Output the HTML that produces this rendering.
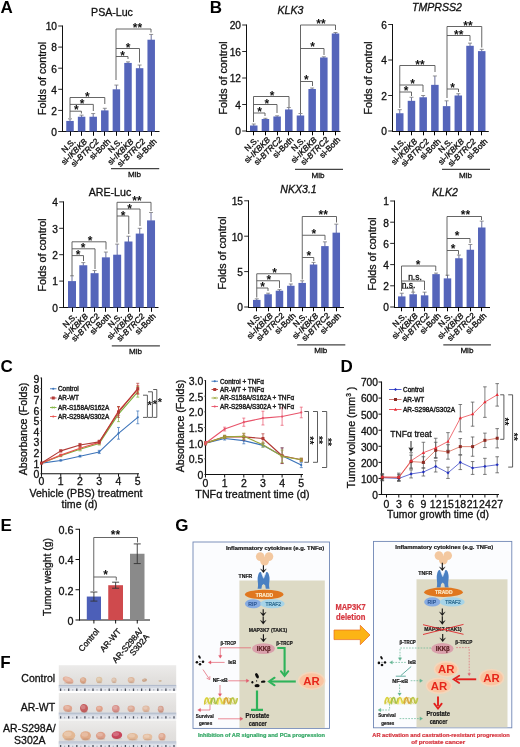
<!DOCTYPE html>
<html><head><meta charset="utf-8"><title>Figure</title>
<style>html,body{margin:0;padding:0;background:#fff}svg{display:block}text{font-family:"Liberation Sans",Arial,sans-serif}</style></head>
<body>
<svg width="520" height="747" viewBox="0 0 520 747" font-family="Liberation Sans, Arial, sans-serif">
<rect x="0" y="0" width="520" height="747" fill="#fff" />
<text x="0.6" y="13.3" font-size="17" text-anchor="start" font-weight="bold" font-style="normal" fill="#000" >A</text>
<text x="209.8" y="12.9" font-size="17" text-anchor="start" font-weight="bold" font-style="normal" fill="#000" >B</text>
<text x="0.4" y="372.3" font-size="17" text-anchor="start" font-weight="bold" font-style="normal" fill="#000" >C</text>
<text x="340.6" y="372.2" font-size="17" text-anchor="start" font-weight="bold" font-style="normal" fill="#000" >D</text>
<text x="0.6" y="530.7" font-size="17" text-anchor="start" font-weight="bold" font-style="normal" fill="#000" >E</text>
<text x="0.3" y="667.9" font-size="17" text-anchor="start" font-weight="bold" font-style="normal" fill="#000" >F</text>
<text x="175.2" y="531" font-size="17" text-anchor="start" font-weight="bold" font-style="normal" fill="#000" >G</text>
<line x1="62.5" y1="25.5" x2="62.5" y2="132" stroke="#111" stroke-width="1" />
<line x1="62" y1="131.5" x2="159.5" y2="131.5" stroke="#111" stroke-width="1" />
<line x1="58.2" y1="131.5" x2="62.5" y2="131.5" stroke="#111" stroke-width="0.9" />
<text x="57" y="135.872" font-size="10.2" text-anchor="end" font-weight="normal" font-style="normal" fill="#111"  stroke="#111" stroke-width="0.3">0</text>
<line x1="58.2" y1="110.4" x2="62.5" y2="110.4" stroke="#111" stroke-width="0.9" />
<text x="57" y="114.772" font-size="10.2" text-anchor="end" font-weight="normal" font-style="normal" fill="#111"  stroke="#111" stroke-width="0.3">2</text>
<line x1="58.2" y1="89.3" x2="62.5" y2="89.3" stroke="#111" stroke-width="0.9" />
<text x="57" y="93.672" font-size="10.2" text-anchor="end" font-weight="normal" font-style="normal" fill="#111"  stroke="#111" stroke-width="0.3">4</text>
<line x1="58.2" y1="68.2" x2="62.5" y2="68.2" stroke="#111" stroke-width="0.9" />
<text x="57" y="72.572" font-size="10.2" text-anchor="end" font-weight="normal" font-style="normal" fill="#111"  stroke="#111" stroke-width="0.3">6</text>
<line x1="58.2" y1="47.1" x2="62.5" y2="47.1" stroke="#111" stroke-width="0.9" />
<text x="57" y="51.472" font-size="10.2" text-anchor="end" font-weight="normal" font-style="normal" fill="#111"  stroke="#111" stroke-width="0.3">8</text>
<line x1="58.2" y1="26" x2="62.5" y2="26" stroke="#111" stroke-width="0.9" />
<text x="57" y="30.372" font-size="10.2" text-anchor="end" font-weight="normal" font-style="normal" fill="#111"  stroke="#111" stroke-width="0.3">10</text>
<line x1="70" y1="118.84" x2="70" y2="121.45" stroke="#5a6090" stroke-width="0.9" />
<line x1="68" y1="118.84" x2="72" y2="118.84" stroke="#777" stroke-width="0.8" />
<rect x="66.25" y="120.95" width="7.5" height="10.55" fill="#5565ba" />
<line x1="70.5" y1="131.5" x2="70.5" y2="135.8" stroke="#000" stroke-width="1" />
<text x="76.1" y="142.1" font-size="8.2" text-anchor="end" fill="#111" stroke="#111" stroke-width="0.35" transform="rotate(-45 76.1 142.1)">N.S.</text>
<line x1="81.6" y1="115.148" x2="81.6" y2="117.23" stroke="#5a6090" stroke-width="0.9" />
<line x1="79.6" y1="115.148" x2="83.6" y2="115.148" stroke="#777" stroke-width="0.8" />
<rect x="77.85" y="116.73" width="7.5" height="14.77" fill="#5565ba" />
<line x1="81.5" y1="131.5" x2="81.5" y2="135.8" stroke="#000" stroke-width="1" />
<text x="87.7" y="142.1" font-size="8.2" text-anchor="end" fill="#111" stroke="#111" stroke-width="0.35" transform="rotate(-45 87.7 142.1)">si-<tspan font-style="italic">IKBKB</tspan></text>
<line x1="93.2" y1="113.565" x2="93.2" y2="117.23" stroke="#5a6090" stroke-width="0.9" />
<line x1="91.2" y1="113.565" x2="95.2" y2="113.565" stroke="#777" stroke-width="0.8" />
<rect x="89.45" y="116.73" width="7.5" height="14.77" fill="#5565ba" />
<line x1="93.5" y1="131.5" x2="93.5" y2="135.8" stroke="#000" stroke-width="1" />
<text x="99.3" y="142.1" font-size="8.2" text-anchor="end" fill="#111" stroke="#111" stroke-width="0.35" transform="rotate(-45 99.3 142.1)">si-<tspan font-style="italic">BTRC2</tspan></text>
<line x1="104.8" y1="108.29" x2="104.8" y2="110.9" stroke="#5a6090" stroke-width="0.9" />
<line x1="102.8" y1="108.29" x2="106.8" y2="108.29" stroke="#777" stroke-width="0.8" />
<rect x="101.05" y="110.4" width="7.5" height="21.1" fill="#5565ba" />
<line x1="104.5" y1="131.5" x2="104.5" y2="135.8" stroke="#000" stroke-width="1" />
<text x="110.9" y="142.1" font-size="8.2" text-anchor="end" fill="#111" stroke="#111" stroke-width="0.35" transform="rotate(-45 110.9 142.1)">si-Both</text>
<line x1="116.4" y1="85.08" x2="116.4" y2="89.8" stroke="#5a6090" stroke-width="0.9" />
<line x1="114.4" y1="85.08" x2="118.4" y2="85.08" stroke="#777" stroke-width="0.8" />
<rect x="112.65" y="89.3" width="7.5" height="42.2" fill="#5565ba" />
<line x1="116.5" y1="131.5" x2="116.5" y2="135.8" stroke="#000" stroke-width="1" />
<text x="122.5" y="142.1" font-size="8.2" text-anchor="end" fill="#111" stroke="#111" stroke-width="0.35" transform="rotate(-45 122.5 142.1)">N.S.</text>
<line x1="128" y1="61.87" x2="128" y2="63.425" stroke="#5a6090" stroke-width="0.9" />
<line x1="126" y1="61.87" x2="130" y2="61.87" stroke="#777" stroke-width="0.8" />
<rect x="124.25" y="62.925" width="7.5" height="68.575" fill="#5565ba" />
<line x1="128.5" y1="131.5" x2="128.5" y2="135.8" stroke="#000" stroke-width="1" />
<text x="134.1" y="142.1" font-size="8.2" text-anchor="end" fill="#111" stroke="#111" stroke-width="0.35" transform="rotate(-45 134.1 142.1)">si-<tspan font-style="italic">IKBKB</tspan></text>
<line x1="139.6" y1="65.035" x2="139.6" y2="68.7" stroke="#5a6090" stroke-width="0.9" />
<line x1="137.6" y1="65.035" x2="141.6" y2="65.035" stroke="#777" stroke-width="0.8" />
<rect x="135.85" y="68.2" width="7.5" height="63.3" fill="#5565ba" />
<line x1="139.5" y1="131.5" x2="139.5" y2="135.8" stroke="#000" stroke-width="1" />
<text x="145.7" y="142.1" font-size="8.2" text-anchor="end" fill="#111" stroke="#111" stroke-width="0.35" transform="rotate(-45 145.7 142.1)">si-<tspan font-style="italic">BTRC2</tspan></text>
<line x1="151.2" y1="34.44" x2="151.2" y2="40.215" stroke="#5a6090" stroke-width="0.9" />
<line x1="149.2" y1="34.44" x2="153.2" y2="34.44" stroke="#777" stroke-width="0.8" />
<rect x="147.45" y="39.715" width="7.5" height="91.785" fill="#5565ba" />
<line x1="151.5" y1="131.5" x2="151.5" y2="135.8" stroke="#000" stroke-width="1" />
<text x="157.3" y="142.1" font-size="8.2" text-anchor="end" fill="#111" stroke="#111" stroke-width="0.35" transform="rotate(-45 157.3 142.1)">si-Both</text>
<text x="112" y="15.8" font-size="10.6" text-anchor="middle" font-weight="normal" font-style="normal" fill="#111"  stroke="#111" stroke-width="0.3">PSA-Luc</text>
<text x="46.1" y="78.5" font-size="10.7" text-anchor="middle" font-weight="normal" font-style="normal" fill="#111" transform="rotate(-90 46.1 78.5)"  stroke="#111" stroke-width="0.3">Folds of control</text>
<line x1="111" y1="168.7" x2="159.2" y2="168.7" stroke="#444" stroke-width="1.2" />
<text x="134.5" y="176.6" font-size="8.1" text-anchor="middle" font-weight="normal" font-style="normal" fill="#111"  stroke="#111" stroke-width="0.3">Mib</text>
<line x1="70" y1="97.5" x2="70" y2="118" stroke="#555" stroke-width="0.9" />
<path d="M70 111.2 H81.4 V113.5" stroke="#555" stroke-width="0.9" fill="none" />
<text x="76.3" y="114.02" font-size="12" text-anchor="middle" font-weight="bold" font-style="normal" fill="#111" >*</text>
<path d="M70 104.4 H93.3 V111" stroke="#555" stroke-width="0.9" fill="none" />
<text x="82" y="107.72" font-size="12" text-anchor="middle" font-weight="bold" font-style="normal" fill="#111" >*</text>
<path d="M70 97.5 H104.8 V104" stroke="#555" stroke-width="0.9" fill="none" />
<text x="87.4" y="100.72" font-size="12" text-anchor="middle" font-weight="bold" font-style="normal" fill="#111" >*</text>
<line x1="116" y1="29" x2="116" y2="80" stroke="#555" stroke-width="0.9" />
<path d="M116 56.5 H128 V59" stroke="#555" stroke-width="0.9" fill="none" />
<text x="122.5" y="59.72" font-size="12" text-anchor="middle" font-weight="bold" font-style="normal" fill="#111" >*</text>
<path d="M116 48.5 H139.5 V62.5" stroke="#555" stroke-width="0.9" fill="none" />
<text x="128" y="51.72" font-size="12" text-anchor="middle" font-weight="bold" font-style="normal" fill="#111" >*</text>
<path d="M116 29 H151 V32.5" stroke="#555" stroke-width="0.9" fill="none" />
<text x="137.5" y="32.22" font-size="12" text-anchor="middle" font-weight="bold" font-style="normal" fill="#111" >**</text>
<line x1="63.5" y1="201.4" x2="63.5" y2="308" stroke="#111" stroke-width="1" />
<line x1="63" y1="307.5" x2="158.5" y2="307.5" stroke="#111" stroke-width="1" />
<line x1="59.2" y1="307.5" x2="63.5" y2="307.5" stroke="#111" stroke-width="0.9" />
<text x="58" y="311.872" font-size="10.2" text-anchor="end" font-weight="normal" font-style="normal" fill="#111"  stroke="#111" stroke-width="0.3">0</text>
<line x1="59.2" y1="281.1" x2="63.5" y2="281.1" stroke="#111" stroke-width="0.9" />
<text x="58" y="285.472" font-size="10.2" text-anchor="end" font-weight="normal" font-style="normal" fill="#111"  stroke="#111" stroke-width="0.3">1</text>
<line x1="59.2" y1="254.7" x2="63.5" y2="254.7" stroke="#111" stroke-width="0.9" />
<text x="58" y="259.072" font-size="10.2" text-anchor="end" font-weight="normal" font-style="normal" fill="#111"  stroke="#111" stroke-width="0.3">2</text>
<line x1="59.2" y1="228.3" x2="63.5" y2="228.3" stroke="#111" stroke-width="0.9" />
<text x="58" y="232.672" font-size="10.2" text-anchor="end" font-weight="normal" font-style="normal" fill="#111"  stroke="#111" stroke-width="0.3">3</text>
<line x1="59.2" y1="201.9" x2="63.5" y2="201.9" stroke="#111" stroke-width="0.9" />
<text x="58" y="206.272" font-size="10.2" text-anchor="end" font-weight="normal" font-style="normal" fill="#111"  stroke="#111" stroke-width="0.3">4</text>
<line x1="72" y1="275.82" x2="72" y2="281.6" stroke="#5a6090" stroke-width="0.9" />
<line x1="70" y1="275.82" x2="74" y2="275.82" stroke="#777" stroke-width="0.8" />
<rect x="68" y="281.1" width="8" height="26.4" fill="#5565ba" />
<line x1="72.5" y1="307.5" x2="72.5" y2="311.8" stroke="#000" stroke-width="1" />
<text x="77.3" y="316.9" font-size="8.2" text-anchor="end" fill="#111" stroke="#111" stroke-width="0.35" transform="rotate(-45 77.3 316.9)">N.S.</text>
<line x1="83.29" y1="262.62" x2="83.29" y2="265.76" stroke="#5a6090" stroke-width="0.9" />
<line x1="81.29" y1="262.62" x2="85.29" y2="262.62" stroke="#777" stroke-width="0.8" />
<rect x="79.29" y="265.26" width="8" height="42.24" fill="#5565ba" />
<line x1="83.5" y1="307.5" x2="83.5" y2="311.8" stroke="#000" stroke-width="1" />
<text x="88.59" y="316.9" font-size="8.2" text-anchor="end" fill="#111" stroke="#111" stroke-width="0.35" transform="rotate(-45 88.59 316.9)">si-<tspan font-style="italic">IKBKB</tspan></text>
<line x1="94.58" y1="270.54" x2="94.58" y2="273.68" stroke="#5a6090" stroke-width="0.9" />
<line x1="92.58" y1="270.54" x2="96.58" y2="270.54" stroke="#777" stroke-width="0.8" />
<rect x="90.58" y="273.18" width="8" height="34.32" fill="#5565ba" />
<line x1="94.5" y1="307.5" x2="94.5" y2="311.8" stroke="#000" stroke-width="1" />
<text x="99.88" y="316.9" font-size="8.2" text-anchor="end" fill="#111" stroke="#111" stroke-width="0.35" transform="rotate(-45 99.88 316.9)">si-<tspan font-style="italic">BTRC2</tspan></text>
<line x1="105.87" y1="252.06" x2="105.87" y2="257.84" stroke="#5a6090" stroke-width="0.9" />
<line x1="103.87" y1="252.06" x2="107.87" y2="252.06" stroke="#777" stroke-width="0.8" />
<rect x="101.87" y="257.34" width="8" height="50.16" fill="#5565ba" />
<line x1="105.5" y1="307.5" x2="105.5" y2="311.8" stroke="#000" stroke-width="1" />
<text x="111.17" y="316.9" font-size="8.2" text-anchor="end" fill="#111" stroke="#111" stroke-width="0.35" transform="rotate(-45 111.17 316.9)">si-Both</text>
<line x1="117.16" y1="244.14" x2="117.16" y2="255.2" stroke="#5a6090" stroke-width="0.9" />
<line x1="115.16" y1="244.14" x2="119.16" y2="244.14" stroke="#777" stroke-width="0.8" />
<rect x="113.16" y="254.7" width="8" height="52.8" fill="#5565ba" />
<line x1="117.5" y1="307.5" x2="117.5" y2="311.8" stroke="#000" stroke-width="1" />
<text x="122.46" y="316.9" font-size="8.2" text-anchor="end" fill="#111" stroke="#111" stroke-width="0.35" transform="rotate(-45 122.46 316.9)">N.S.</text>
<line x1="128.45" y1="236.22" x2="128.45" y2="242" stroke="#5a6090" stroke-width="0.9" />
<line x1="126.45" y1="236.22" x2="130.45" y2="236.22" stroke="#777" stroke-width="0.8" />
<rect x="124.45" y="241.5" width="8" height="66" fill="#5565ba" />
<line x1="128.5" y1="307.5" x2="128.5" y2="311.8" stroke="#000" stroke-width="1" />
<text x="133.75" y="316.9" font-size="8.2" text-anchor="end" fill="#111" stroke="#111" stroke-width="0.35" transform="rotate(-45 133.75 316.9)">si-<tspan font-style="italic">IKBKB</tspan></text>
<line x1="139.74" y1="228.3" x2="139.74" y2="234.08" stroke="#5a6090" stroke-width="0.9" />
<line x1="137.74" y1="228.3" x2="141.74" y2="228.3" stroke="#777" stroke-width="0.8" />
<rect x="135.74" y="233.58" width="8" height="73.92" fill="#5565ba" />
<line x1="139.5" y1="307.5" x2="139.5" y2="311.8" stroke="#000" stroke-width="1" />
<text x="145.04" y="316.9" font-size="8.2" text-anchor="end" fill="#111" stroke="#111" stroke-width="0.35" transform="rotate(-45 145.04 316.9)">si-<tspan font-style="italic">BTRC2</tspan></text>
<line x1="151.03" y1="212.46" x2="151.03" y2="220.88" stroke="#5a6090" stroke-width="0.9" />
<line x1="149.03" y1="212.46" x2="153.03" y2="212.46" stroke="#777" stroke-width="0.8" />
<rect x="147.03" y="220.38" width="8" height="87.12" fill="#5565ba" />
<line x1="151.5" y1="307.5" x2="151.5" y2="311.8" stroke="#000" stroke-width="1" />
<text x="156.33" y="316.9" font-size="8.2" text-anchor="end" fill="#111" stroke="#111" stroke-width="0.35" transform="rotate(-45 156.33 316.9)">si-Both</text>
<text x="110" y="195.5" font-size="10.6" text-anchor="middle" font-weight="normal" font-style="normal" fill="#111"  stroke="#111" stroke-width="0.3">ARE-Luc</text>
<text x="45.8" y="255" font-size="10.7" text-anchor="middle" font-weight="normal" font-style="normal" fill="#111" transform="rotate(-90 45.8 255)"  stroke="#111" stroke-width="0.3">Folds of control</text>
<line x1="111.8" y1="345.8" x2="159.9" y2="345.8" stroke="#444" stroke-width="1.2" />
<text x="135.5" y="353.8" font-size="8.1" text-anchor="middle" font-weight="normal" font-style="normal" fill="#111"  stroke="#111" stroke-width="0.3">Mib</text>
<line x1="72" y1="241.8" x2="72" y2="276" stroke="#555" stroke-width="0.9" />
<path d="M72 255.6 H83.5 V261" stroke="#555" stroke-width="0.9" fill="none" />
<text x="78" y="258.72" font-size="12" text-anchor="middle" font-weight="bold" font-style="normal" fill="#111" >*</text>
<path d="M72 248.8 H95 V269" stroke="#555" stroke-width="0.9" fill="none" />
<text x="83" y="251.72" font-size="12" text-anchor="middle" font-weight="bold" font-style="normal" fill="#111" >*</text>
<path d="M72 241.8 H106 V249.5" stroke="#555" stroke-width="0.9" fill="none" />
<text x="90" y="244.72" font-size="12" text-anchor="middle" font-weight="bold" font-style="normal" fill="#111" >*</text>
<line x1="117" y1="202.3" x2="117" y2="242.5" stroke="#555" stroke-width="0.9" />
<path d="M117 216 H128.75 V234" stroke="#555" stroke-width="0.9" fill="none" />
<text x="123" y="219.72" font-size="12" text-anchor="middle" font-weight="bold" font-style="normal" fill="#111" >*</text>
<path d="M117 209 H140 V226" stroke="#555" stroke-width="0.9" fill="none" />
<text x="129.5" y="212.72" font-size="12" text-anchor="middle" font-weight="bold" font-style="normal" fill="#111" >*</text>
<path d="M117 202.3 H151 V211" stroke="#555" stroke-width="0.9" fill="none" />
<text x="137" y="204.72" font-size="12" text-anchor="middle" font-weight="bold" font-style="normal" fill="#111" >**</text>
<line x1="246.5" y1="24.5" x2="246.5" y2="132" stroke="#111" stroke-width="1" />
<line x1="246" y1="131.5" x2="340.5" y2="131.5" stroke="#111" stroke-width="1" />
<line x1="242.2" y1="131" x2="246.5" y2="131" stroke="#111" stroke-width="0.9" />
<text x="241" y="135.372" font-size="10.2" text-anchor="end" font-weight="normal" font-style="normal" fill="#111"  stroke="#111" stroke-width="0.3">0</text>
<line x1="242.2" y1="104.5" x2="246.5" y2="104.5" stroke="#111" stroke-width="0.9" />
<text x="241" y="108.872" font-size="10.2" text-anchor="end" font-weight="normal" font-style="normal" fill="#111"  stroke="#111" stroke-width="0.3">4</text>
<line x1="242.2" y1="78" x2="246.5" y2="78" stroke="#111" stroke-width="0.9" />
<text x="241" y="82.372" font-size="10.2" text-anchor="end" font-weight="normal" font-style="normal" fill="#111"  stroke="#111" stroke-width="0.3">12</text>
<line x1="242.2" y1="51.5" x2="246.5" y2="51.5" stroke="#111" stroke-width="0.9" />
<text x="241" y="55.872" font-size="10.2" text-anchor="end" font-weight="normal" font-style="normal" fill="#111"  stroke="#111" stroke-width="0.3">16</text>
<line x1="242.2" y1="25" x2="246.5" y2="25" stroke="#111" stroke-width="0.9" />
<text x="241" y="29.372" font-size="10.2" text-anchor="end" font-weight="normal" font-style="normal" fill="#111"  stroke="#111" stroke-width="0.3">20</text>
<line x1="253.75" y1="124" x2="253.75" y2="126" stroke="#5a6090" stroke-width="0.9" />
<line x1="251.75" y1="124" x2="255.75" y2="124" stroke="#777" stroke-width="0.8" />
<rect x="250" y="125.5" width="7.5" height="5.5" fill="#5565ba" />
<line x1="253.5" y1="131" x2="253.5" y2="135.3" stroke="#000" stroke-width="1" />
<text x="259.05" y="140.4" font-size="8.2" text-anchor="end" fill="#111" stroke="#111" stroke-width="0.35" transform="rotate(-45 259.05 140.4)">N.S.</text>
<line x1="265.43" y1="118.3" x2="265.43" y2="119.5" stroke="#5a6090" stroke-width="0.9" />
<line x1="263.43" y1="118.3" x2="267.43" y2="118.3" stroke="#777" stroke-width="0.8" />
<rect x="261.68" y="119" width="7.5" height="12" fill="#5565ba" />
<line x1="265.5" y1="131" x2="265.5" y2="135.3" stroke="#000" stroke-width="1" />
<text x="270.73" y="140.4" font-size="8.2" text-anchor="end" fill="#111" stroke="#111" stroke-width="0.35" transform="rotate(-45 270.73 140.4)">si-<tspan font-style="italic">IKBKB</tspan></text>
<line x1="277.11" y1="115.8" x2="277.11" y2="117" stroke="#5a6090" stroke-width="0.9" />
<line x1="275.11" y1="115.8" x2="279.11" y2="115.8" stroke="#777" stroke-width="0.8" />
<rect x="273.36" y="116.5" width="7.5" height="14.5" fill="#5565ba" />
<line x1="277.5" y1="131" x2="277.5" y2="135.3" stroke="#000" stroke-width="1" />
<text x="282.41" y="140.4" font-size="8.2" text-anchor="end" fill="#111" stroke="#111" stroke-width="0.35" transform="rotate(-45 282.41 140.4)">si-<tspan font-style="italic">BTRC2</tspan></text>
<line x1="288.79" y1="107.5" x2="288.79" y2="110" stroke="#5a6090" stroke-width="0.9" />
<line x1="286.79" y1="107.5" x2="290.79" y2="107.5" stroke="#777" stroke-width="0.8" />
<rect x="285.04" y="109.5" width="7.5" height="21.5" fill="#5565ba" />
<line x1="288.5" y1="131" x2="288.5" y2="135.3" stroke="#000" stroke-width="1" />
<text x="294.09" y="140.4" font-size="8.2" text-anchor="end" fill="#111" stroke="#111" stroke-width="0.35" transform="rotate(-45 294.09 140.4)">si-Both</text>
<line x1="300.47" y1="113.5" x2="300.47" y2="116" stroke="#5a6090" stroke-width="0.9" />
<line x1="298.47" y1="113.5" x2="302.47" y2="113.5" stroke="#777" stroke-width="0.8" />
<rect x="296.72" y="115.5" width="7.5" height="15.5" fill="#5565ba" />
<line x1="300.5" y1="131" x2="300.5" y2="135.3" stroke="#000" stroke-width="1" />
<text x="305.77" y="140.4" font-size="8.2" text-anchor="end" fill="#111" stroke="#111" stroke-width="0.35" transform="rotate(-45 305.77 140.4)">N.S.</text>
<line x1="312.15" y1="88" x2="312.15" y2="89.5" stroke="#5a6090" stroke-width="0.9" />
<line x1="310.15" y1="88" x2="314.15" y2="88" stroke="#777" stroke-width="0.8" />
<rect x="308.4" y="89" width="7.5" height="42" fill="#5565ba" />
<line x1="312.5" y1="131" x2="312.5" y2="135.3" stroke="#000" stroke-width="1" />
<text x="317.45" y="140.4" font-size="8.2" text-anchor="end" fill="#111" stroke="#111" stroke-width="0.35" transform="rotate(-45 317.45 140.4)">si-<tspan font-style="italic">IKBKB</tspan></text>
<line x1="323.83" y1="56.8" x2="323.83" y2="58" stroke="#5a6090" stroke-width="0.9" />
<line x1="321.83" y1="56.8" x2="325.83" y2="56.8" stroke="#777" stroke-width="0.8" />
<rect x="320.08" y="57.5" width="7.5" height="73.5" fill="#5565ba" />
<line x1="323.5" y1="131" x2="323.5" y2="135.3" stroke="#000" stroke-width="1" />
<text x="329.13" y="140.4" font-size="8.2" text-anchor="end" fill="#111" stroke="#111" stroke-width="0.35" transform="rotate(-45 329.13 140.4)">si-<tspan font-style="italic">BTRC2</tspan></text>
<line x1="335.51" y1="32.5" x2="335.51" y2="34" stroke="#5a6090" stroke-width="0.9" />
<line x1="333.51" y1="32.5" x2="337.51" y2="32.5" stroke="#777" stroke-width="0.8" />
<rect x="331.76" y="33.5" width="7.5" height="97.5" fill="#5565ba" />
<line x1="335.5" y1="131" x2="335.5" y2="135.3" stroke="#000" stroke-width="1" />
<text x="340.81" y="140.4" font-size="8.2" text-anchor="end" fill="#111" stroke="#111" stroke-width="0.35" transform="rotate(-45 340.81 140.4)">si-Both</text>
<text x="290.5" y="14" font-size="10.6" text-anchor="middle" font-weight="normal" font-style="italic" fill="#111"  stroke="#111" stroke-width="0.3">KLK3</text>
<text x="227.1" y="78" font-size="10.7" text-anchor="middle" font-weight="normal" font-style="normal" fill="#111" transform="rotate(-90 227.1 78)"  stroke="#111" stroke-width="0.3">Folds of control</text>
<line x1="295" y1="169.4" x2="343" y2="169.4" stroke="#444" stroke-width="1.2" />
<text x="318" y="177.5" font-size="8.1" text-anchor="middle" font-weight="normal" font-style="normal" fill="#111"  stroke="#111" stroke-width="0.3">Mib</text>
<line x1="253.5" y1="96.5" x2="253.5" y2="122" stroke="#555" stroke-width="0.9" />
<path d="M253.5 113 H265 V116" stroke="#555" stroke-width="0.9" fill="none" />
<text x="259.5" y="116.02" font-size="12" text-anchor="middle" font-weight="bold" font-style="normal" fill="#111" >*</text>
<path d="M253.5 104.5 H277 V113" stroke="#555" stroke-width="0.9" fill="none" />
<text x="266.75" y="107.52" font-size="12" text-anchor="middle" font-weight="bold" font-style="normal" fill="#111" >*</text>
<path d="M253.5 96.5 H289 V107" stroke="#555" stroke-width="0.9" fill="none" />
<text x="272" y="99.52" font-size="12" text-anchor="middle" font-weight="bold" font-style="normal" fill="#111" >*</text>
<line x1="300.5" y1="25" x2="300.5" y2="113" stroke="#555" stroke-width="0.9" />
<path d="M300.5 81.5 H312.5 V86" stroke="#555" stroke-width="0.9" fill="none" />
<text x="306.25" y="84.02" font-size="12" text-anchor="middle" font-weight="bold" font-style="normal" fill="#111" >*</text>
<path d="M300.5 48.5 H324 V55" stroke="#555" stroke-width="0.9" fill="none" />
<text x="312.5" y="51.02" font-size="12" text-anchor="middle" font-weight="bold" font-style="normal" fill="#111" >*</text>
<path d="M300.5 25 H335.5 V30" stroke="#555" stroke-width="0.9" fill="none" />
<text x="321" y="28.02" font-size="12" text-anchor="middle" font-weight="bold" font-style="normal" fill="#111" >**</text>
<line x1="392.5" y1="24" x2="392.5" y2="132" stroke="#111" stroke-width="1" />
<line x1="392" y1="131.5" x2="488.75" y2="131.5" stroke="#111" stroke-width="1" />
<line x1="388.2" y1="131" x2="392.5" y2="131" stroke="#111" stroke-width="0.9" />
<text x="387" y="135.372" font-size="10.2" text-anchor="end" font-weight="normal" font-style="normal" fill="#111"  stroke="#111" stroke-width="0.3">0</text>
<line x1="388.2" y1="95.5" x2="392.5" y2="95.5" stroke="#111" stroke-width="0.9" />
<text x="387" y="99.872" font-size="10.2" text-anchor="end" font-weight="normal" font-style="normal" fill="#111"  stroke="#111" stroke-width="0.3">2</text>
<line x1="388.2" y1="60" x2="392.5" y2="60" stroke="#111" stroke-width="0.9" />
<text x="387" y="64.372" font-size="10.2" text-anchor="end" font-weight="normal" font-style="normal" fill="#111"  stroke="#111" stroke-width="0.3">4</text>
<line x1="388.2" y1="24.5" x2="392.5" y2="24.5" stroke="#111" stroke-width="0.9" />
<text x="387" y="28.872" font-size="10.2" text-anchor="end" font-weight="normal" font-style="normal" fill="#111"  stroke="#111" stroke-width="0.3">6</text>
<line x1="399.75" y1="109.7" x2="399.75" y2="113.75" stroke="#5a6090" stroke-width="0.9" />
<line x1="397.75" y1="109.7" x2="401.75" y2="109.7" stroke="#777" stroke-width="0.8" />
<rect x="396" y="113.25" width="7.5" height="17.75" fill="#5565ba" />
<line x1="399.5" y1="131" x2="399.5" y2="135.3" stroke="#000" stroke-width="1" />
<text x="406.05" y="142" font-size="8.2" text-anchor="end" fill="#111" stroke="#111" stroke-width="0.35" transform="rotate(-45 406.05 142)">N.S.</text>
<line x1="411.46" y1="97.275" x2="411.46" y2="101.325" stroke="#5a6090" stroke-width="0.9" />
<line x1="409.46" y1="97.275" x2="413.46" y2="97.275" stroke="#777" stroke-width="0.8" />
<rect x="407.71" y="100.825" width="7.5" height="30.175" fill="#5565ba" />
<line x1="411.5" y1="131" x2="411.5" y2="135.3" stroke="#000" stroke-width="1" />
<text x="417.76" y="142" font-size="8.2" text-anchor="end" fill="#111" stroke="#111" stroke-width="0.35" transform="rotate(-45 417.76 142)">si-<tspan font-style="italic">IKBKB</tspan></text>
<line x1="423.17" y1="95.5" x2="423.17" y2="97.775" stroke="#5a6090" stroke-width="0.9" />
<line x1="421.17" y1="95.5" x2="425.17" y2="95.5" stroke="#777" stroke-width="0.8" />
<rect x="419.42" y="97.275" width="7.5" height="33.725" fill="#5565ba" />
<line x1="423.5" y1="131" x2="423.5" y2="135.3" stroke="#000" stroke-width="1" />
<text x="429.47" y="142" font-size="8.2" text-anchor="end" fill="#111" stroke="#111" stroke-width="0.35" transform="rotate(-45 429.47 142)">si-<tspan font-style="italic">BTRC2</tspan></text>
<line x1="434.88" y1="75.975" x2="434.88" y2="85.35" stroke="#5a6090" stroke-width="0.9" />
<line x1="432.88" y1="75.975" x2="436.88" y2="75.975" stroke="#777" stroke-width="0.8" />
<rect x="431.13" y="84.85" width="7.5" height="46.15" fill="#5565ba" />
<line x1="434.5" y1="131" x2="434.5" y2="135.3" stroke="#000" stroke-width="1" />
<text x="441.18" y="142" font-size="8.2" text-anchor="end" fill="#111" stroke="#111" stroke-width="0.35" transform="rotate(-45 441.18 142)">si-Both</text>
<line x1="446.59" y1="100.825" x2="446.59" y2="106.65" stroke="#5a6090" stroke-width="0.9" />
<line x1="444.59" y1="100.825" x2="448.59" y2="100.825" stroke="#777" stroke-width="0.8" />
<rect x="442.84" y="106.15" width="7.5" height="24.85" fill="#5565ba" />
<line x1="446.5" y1="131" x2="446.5" y2="135.3" stroke="#000" stroke-width="1" />
<text x="452.89" y="142" font-size="8.2" text-anchor="end" fill="#111" stroke="#111" stroke-width="0.35" transform="rotate(-45 452.89 142)">N.S.</text>
<line x1="458.3" y1="93.725" x2="458.3" y2="96" stroke="#5a6090" stroke-width="0.9" />
<line x1="456.3" y1="93.725" x2="460.3" y2="93.725" stroke="#777" stroke-width="0.8" />
<rect x="454.55" y="95.5" width="7.5" height="35.5" fill="#5565ba" />
<line x1="458.5" y1="131" x2="458.5" y2="135.3" stroke="#000" stroke-width="1" />
<text x="464.6" y="142" font-size="8.2" text-anchor="end" fill="#111" stroke="#111" stroke-width="0.35" transform="rotate(-45 464.6 142)">si-<tspan font-style="italic">IKBKB</tspan></text>
<line x1="470.01" y1="43.1375" x2="470.01" y2="46.3" stroke="#5a6090" stroke-width="0.9" />
<line x1="468.01" y1="43.1375" x2="472.01" y2="43.1375" stroke="#777" stroke-width="0.8" />
<rect x="466.26" y="45.8" width="7.5" height="85.2" fill="#5565ba" />
<line x1="470.5" y1="131" x2="470.5" y2="135.3" stroke="#000" stroke-width="1" />
<text x="476.31" y="142" font-size="8.2" text-anchor="end" fill="#111" stroke="#111" stroke-width="0.35" transform="rotate(-45 476.31 142)">si-<tspan font-style="italic">BTRC2</tspan></text>
<line x1="481.72" y1="49.35" x2="481.72" y2="51.625" stroke="#5a6090" stroke-width="0.9" />
<line x1="479.72" y1="49.35" x2="483.72" y2="49.35" stroke="#777" stroke-width="0.8" />
<rect x="477.97" y="51.125" width="7.5" height="79.875" fill="#5565ba" />
<line x1="481.5" y1="131" x2="481.5" y2="135.3" stroke="#000" stroke-width="1" />
<text x="488.02" y="142" font-size="8.2" text-anchor="end" fill="#111" stroke="#111" stroke-width="0.35" transform="rotate(-45 488.02 142)">si-Both</text>
<text x="437" y="11" font-size="10.6" text-anchor="middle" font-weight="normal" font-style="italic" fill="#111"  stroke="#111" stroke-width="0.3">TMPRSS2</text>
<text x="372.3" y="78" font-size="10.7" text-anchor="middle" font-weight="normal" font-style="normal" fill="#111" transform="rotate(-90 372.3 78)"  stroke="#111" stroke-width="0.3">Folds of control</text>
<line x1="442" y1="169.4" x2="490" y2="169.4" stroke="#444" stroke-width="1.2" />
<text x="465.5" y="177.5" font-size="8.1" text-anchor="middle" font-weight="normal" font-style="normal" fill="#111"  stroke="#111" stroke-width="0.3">Mib</text>
<line x1="399.75" y1="65.5" x2="399.75" y2="108" stroke="#555" stroke-width="0.9" />
<path d="M399.75 92 H411.5 V96" stroke="#555" stroke-width="0.9" fill="none" />
<text x="406" y="94.72" font-size="12" text-anchor="middle" font-weight="bold" font-style="normal" fill="#111" >*</text>
<path d="M399.75 85 H423 V92" stroke="#555" stroke-width="0.9" fill="none" />
<text x="412.5" y="87.72" font-size="12" text-anchor="middle" font-weight="bold" font-style="normal" fill="#111" >*</text>
<path d="M399.75 65.5 H435 V72" stroke="#555" stroke-width="0.9" fill="none" />
<text x="420" y="68.72" font-size="12" text-anchor="middle" font-weight="bold" font-style="normal" fill="#111" >**</text>
<line x1="447" y1="26.5" x2="447" y2="98" stroke="#555" stroke-width="0.9" />
<path d="M447 89 H458.5 V92" stroke="#555" stroke-width="0.9" fill="none" />
<text x="452.5" y="91.72" font-size="12" text-anchor="middle" font-weight="bold" font-style="normal" fill="#111" >*</text>
<path d="M447 35.5 H470 V41" stroke="#555" stroke-width="0.9" fill="none" />
<text x="458.75" y="38.72" font-size="12" text-anchor="middle" font-weight="bold" font-style="normal" fill="#111" >**</text>
<path d="M447 26.5 H481.75 V47.5" stroke="#555" stroke-width="0.9" fill="none" />
<text x="468" y="29.72" font-size="12" text-anchor="middle" font-weight="bold" font-style="normal" fill="#111" >**</text>
<line x1="248.5" y1="200.3" x2="248.5" y2="308" stroke="#111" stroke-width="1" />
<line x1="248" y1="307.5" x2="344" y2="307.5" stroke="#111" stroke-width="1" />
<line x1="244.2" y1="307" x2="248.5" y2="307" stroke="#111" stroke-width="0.9" />
<text x="243" y="311.372" font-size="10.2" text-anchor="end" font-weight="normal" font-style="normal" fill="#111"  stroke="#111" stroke-width="0.3">0</text>
<line x1="244.2" y1="271.6" x2="248.5" y2="271.6" stroke="#111" stroke-width="0.9" />
<text x="243" y="275.972" font-size="10.2" text-anchor="end" font-weight="normal" font-style="normal" fill="#111"  stroke="#111" stroke-width="0.3">5</text>
<line x1="244.2" y1="236.2" x2="248.5" y2="236.2" stroke="#111" stroke-width="0.9" />
<text x="243" y="240.572" font-size="10.2" text-anchor="end" font-weight="normal" font-style="normal" fill="#111"  stroke="#111" stroke-width="0.3">10</text>
<line x1="244.2" y1="200.8" x2="248.5" y2="200.8" stroke="#111" stroke-width="0.9" />
<text x="243" y="205.172" font-size="10.2" text-anchor="end" font-weight="normal" font-style="normal" fill="#111"  stroke="#111" stroke-width="0.3">15</text>
<line x1="256.75" y1="298.858" x2="256.75" y2="300.42" stroke="#5a6090" stroke-width="0.9" />
<line x1="254.75" y1="298.858" x2="258.75" y2="298.858" stroke="#777" stroke-width="0.8" />
<rect x="253" y="299.92" width="7.5" height="7.08" fill="#5565ba" />
<line x1="256.5" y1="307" x2="256.5" y2="311.3" stroke="#000" stroke-width="1" />
<text x="262.05" y="316.4" font-size="8.2" text-anchor="end" fill="#111" stroke="#111" stroke-width="0.35" transform="rotate(-45 262.05 316.4)">N.S.</text>
<line x1="268.11" y1="293.194" x2="268.11" y2="294.756" stroke="#5a6090" stroke-width="0.9" />
<line x1="266.11" y1="293.194" x2="270.11" y2="293.194" stroke="#777" stroke-width="0.8" />
<rect x="264.36" y="294.256" width="7.5" height="12.744" fill="#5565ba" />
<line x1="268.5" y1="307" x2="268.5" y2="311.3" stroke="#000" stroke-width="1" />
<text x="273.41" y="316.4" font-size="8.2" text-anchor="end" fill="#111" stroke="#111" stroke-width="0.35" transform="rotate(-45 273.41 316.4)">si-<tspan font-style="italic">IKBKB</tspan></text>
<line x1="279.47" y1="289.654" x2="279.47" y2="291.216" stroke="#5a6090" stroke-width="0.9" />
<line x1="277.47" y1="289.654" x2="281.47" y2="289.654" stroke="#777" stroke-width="0.8" />
<rect x="275.72" y="290.716" width="7.5" height="16.284" fill="#5565ba" />
<line x1="279.5" y1="307" x2="279.5" y2="311.3" stroke="#000" stroke-width="1" />
<text x="284.77" y="316.4" font-size="8.2" text-anchor="end" fill="#111" stroke="#111" stroke-width="0.35" transform="rotate(-45 284.77 316.4)">si-<tspan font-style="italic">BTRC2</tspan></text>
<line x1="290.83" y1="283.99" x2="290.83" y2="286.26" stroke="#5a6090" stroke-width="0.9" />
<line x1="288.83" y1="283.99" x2="292.83" y2="283.99" stroke="#777" stroke-width="0.8" />
<rect x="287.08" y="285.76" width="7.5" height="21.24" fill="#5565ba" />
<line x1="290.5" y1="307" x2="290.5" y2="311.3" stroke="#000" stroke-width="1" />
<text x="296.13" y="316.4" font-size="8.2" text-anchor="end" fill="#111" stroke="#111" stroke-width="0.35" transform="rotate(-45 296.13 316.4)">si-Both</text>
<line x1="302.19" y1="280.804" x2="302.19" y2="283.428" stroke="#5a6090" stroke-width="0.9" />
<line x1="300.19" y1="280.804" x2="304.19" y2="280.804" stroke="#777" stroke-width="0.8" />
<rect x="298.44" y="282.928" width="7.5" height="24.072" fill="#5565ba" />
<line x1="302.5" y1="307" x2="302.5" y2="311.3" stroke="#000" stroke-width="1" />
<text x="307.49" y="316.4" font-size="8.2" text-anchor="end" fill="#111" stroke="#111" stroke-width="0.35" transform="rotate(-45 307.49 316.4)">N.S.</text>
<line x1="313.55" y1="262.396" x2="313.55" y2="265.02" stroke="#5a6090" stroke-width="0.9" />
<line x1="311.55" y1="262.396" x2="315.55" y2="262.396" stroke="#777" stroke-width="0.8" />
<rect x="309.8" y="264.52" width="7.5" height="42.48" fill="#5565ba" />
<line x1="313.5" y1="307" x2="313.5" y2="311.3" stroke="#000" stroke-width="1" />
<text x="318.85" y="316.4" font-size="8.2" text-anchor="end" fill="#111" stroke="#111" stroke-width="0.35" transform="rotate(-45 318.85 316.4)">si-<tspan font-style="italic">IKBKB</tspan></text>
<line x1="324.91" y1="241.864" x2="324.91" y2="246.612" stroke="#5a6090" stroke-width="0.9" />
<line x1="322.91" y1="241.864" x2="326.91" y2="241.864" stroke="#777" stroke-width="0.8" />
<rect x="321.16" y="246.112" width="7.5" height="60.888" fill="#5565ba" />
<line x1="324.5" y1="307" x2="324.5" y2="311.3" stroke="#000" stroke-width="1" />
<text x="330.21" y="316.4" font-size="8.2" text-anchor="end" fill="#111" stroke="#111" stroke-width="0.35" transform="rotate(-45 330.21 316.4)">si-<tspan font-style="italic">BTRC2</tspan></text>
<line x1="336.27" y1="224.164" x2="336.27" y2="233.16" stroke="#5a6090" stroke-width="0.9" />
<line x1="334.27" y1="224.164" x2="338.27" y2="224.164" stroke="#777" stroke-width="0.8" />
<rect x="332.52" y="232.66" width="7.5" height="74.34" fill="#5565ba" />
<line x1="336.5" y1="307" x2="336.5" y2="311.3" stroke="#000" stroke-width="1" />
<text x="341.57" y="316.4" font-size="8.2" text-anchor="end" fill="#111" stroke="#111" stroke-width="0.35" transform="rotate(-45 341.57 316.4)">si-Both</text>
<text x="298.5" y="193" font-size="10.6" text-anchor="middle" font-weight="normal" font-style="italic" fill="#111"  stroke="#111" stroke-width="0.3">NKX3.1</text>
<text x="226.3" y="253" font-size="10.7" text-anchor="middle" font-weight="normal" font-style="normal" fill="#111" transform="rotate(-90 226.3 253)"  stroke="#111" stroke-width="0.3">Folds of control</text>
<line x1="297.2" y1="344.8" x2="345.3" y2="344.8" stroke="#444" stroke-width="1.2" />
<text x="320.7" y="353.3" font-size="8.1" text-anchor="middle" font-weight="normal" font-style="normal" fill="#111"  stroke="#111" stroke-width="0.3">Mib</text>
<line x1="256.75" y1="273.75" x2="256.75" y2="297.5" stroke="#555" stroke-width="0.9" />
<path d="M256.75 288 H268 V291" stroke="#555" stroke-width="0.9" fill="none" />
<text x="262.5" y="290.92" font-size="12" text-anchor="middle" font-weight="bold" font-style="normal" fill="#111" >*</text>
<path d="M256.75 280.75 H279.5 V288" stroke="#555" stroke-width="0.9" fill="none" />
<text x="268.75" y="283.92" font-size="12" text-anchor="middle" font-weight="bold" font-style="normal" fill="#111" >*</text>
<path d="M256.75 273.75 H291 V282" stroke="#555" stroke-width="0.9" fill="none" />
<text x="274.5" y="276.92" font-size="12" text-anchor="middle" font-weight="bold" font-style="normal" fill="#111" >*</text>
<line x1="302.25" y1="216.5" x2="302.25" y2="279.5" stroke="#555" stroke-width="0.9" />
<path d="M302.25 257.5 H313.75 V261" stroke="#555" stroke-width="0.9" fill="none" />
<text x="308.75" y="260.42" font-size="12" text-anchor="middle" font-weight="bold" font-style="normal" fill="#111" >*</text>
<path d="M302.25 235.25 H325 V240" stroke="#555" stroke-width="0.9" fill="none" />
<text x="313.75" y="237.92" font-size="12" text-anchor="middle" font-weight="bold" font-style="normal" fill="#111" >*</text>
<path d="M302.25 216.5 H336.5 V222.5" stroke="#555" stroke-width="0.9" fill="none" />
<text x="323.25" y="218.92" font-size="12" text-anchor="middle" font-weight="bold" font-style="normal" fill="#111" >**</text>
<line x1="394.5" y1="200.5" x2="394.5" y2="308" stroke="#111" stroke-width="1" />
<line x1="394" y1="307.5" x2="490" y2="307.5" stroke="#111" stroke-width="1" />
<line x1="390.2" y1="307" x2="394.5" y2="307" stroke="#111" stroke-width="0.9" />
<text x="389" y="311.372" font-size="10.2" text-anchor="end" font-weight="normal" font-style="normal" fill="#111"  stroke="#111" stroke-width="0.3">0</text>
<line x1="390.2" y1="285.8" x2="394.5" y2="285.8" stroke="#111" stroke-width="0.9" />
<text x="389" y="290.172" font-size="10.2" text-anchor="end" font-weight="normal" font-style="normal" fill="#111"  stroke="#111" stroke-width="0.3">2</text>
<line x1="390.2" y1="264.6" x2="394.5" y2="264.6" stroke="#111" stroke-width="0.9" />
<text x="389" y="268.972" font-size="10.2" text-anchor="end" font-weight="normal" font-style="normal" fill="#111"  stroke="#111" stroke-width="0.3">4</text>
<line x1="390.2" y1="243.4" x2="394.5" y2="243.4" stroke="#111" stroke-width="0.9" />
<text x="389" y="247.772" font-size="10.2" text-anchor="end" font-weight="normal" font-style="normal" fill="#111"  stroke="#111" stroke-width="0.3">6</text>
<line x1="390.2" y1="222.2" x2="394.5" y2="222.2" stroke="#111" stroke-width="0.9" />
<text x="389" y="226.572" font-size="10.2" text-anchor="end" font-weight="normal" font-style="normal" fill="#111"  stroke="#111" stroke-width="0.3">8</text>
<line x1="390.2" y1="201" x2="394.5" y2="201" stroke="#111" stroke-width="0.9" />
<text x="389" y="205.372" font-size="10.2" text-anchor="end" font-weight="normal" font-style="normal" fill="#111"  stroke="#111" stroke-width="0.3">1</text>
<line x1="401.75" y1="293.22" x2="401.75" y2="296.9" stroke="#5a6090" stroke-width="0.9" />
<line x1="399.75" y1="293.22" x2="403.75" y2="293.22" stroke="#777" stroke-width="0.8" />
<rect x="398" y="296.4" width="7.5" height="10.6" fill="#5565ba" />
<line x1="401.5" y1="307" x2="401.5" y2="311.3" stroke="#000" stroke-width="1" />
<text x="407.05" y="316.4" font-size="8.2" text-anchor="end" fill="#111" stroke="#111" stroke-width="0.35" transform="rotate(-45 407.05 316.4)">N.S.</text>
<line x1="413.18" y1="292.16" x2="413.18" y2="294.78" stroke="#5a6090" stroke-width="0.9" />
<line x1="411.18" y1="292.16" x2="415.18" y2="292.16" stroke="#777" stroke-width="0.8" />
<rect x="409.43" y="294.28" width="7.5" height="12.72" fill="#5565ba" />
<line x1="413.5" y1="307" x2="413.5" y2="311.3" stroke="#000" stroke-width="1" />
<text x="418.48" y="316.4" font-size="8.2" text-anchor="end" fill="#111" stroke="#111" stroke-width="0.35" transform="rotate(-45 418.48 316.4)">si-<tspan font-style="italic">IKBKB</tspan></text>
<line x1="424.61" y1="292.16" x2="424.61" y2="295.84" stroke="#5a6090" stroke-width="0.9" />
<line x1="422.61" y1="292.16" x2="426.61" y2="292.16" stroke="#777" stroke-width="0.8" />
<rect x="420.86" y="295.34" width="7.5" height="11.66" fill="#5565ba" />
<line x1="424.5" y1="307" x2="424.5" y2="311.3" stroke="#000" stroke-width="1" />
<text x="429.91" y="316.4" font-size="8.2" text-anchor="end" fill="#111" stroke="#111" stroke-width="0.35" transform="rotate(-45 429.91 316.4)">si-<tspan font-style="italic">BTRC2</tspan></text>
<line x1="436.04" y1="273.08" x2="436.04" y2="274.64" stroke="#5a6090" stroke-width="0.9" />
<line x1="434.04" y1="273.08" x2="438.04" y2="273.08" stroke="#777" stroke-width="0.8" />
<rect x="432.29" y="274.14" width="7.5" height="32.86" fill="#5565ba" />
<line x1="436.5" y1="307" x2="436.5" y2="311.3" stroke="#000" stroke-width="1" />
<text x="441.34" y="316.4" font-size="8.2" text-anchor="end" fill="#111" stroke="#111" stroke-width="0.35" transform="rotate(-45 441.34 316.4)">si-Both</text>
<line x1="447.47" y1="275.2" x2="447.47" y2="278.88" stroke="#5a6090" stroke-width="0.9" />
<line x1="445.47" y1="275.2" x2="449.47" y2="275.2" stroke="#777" stroke-width="0.8" />
<rect x="443.72" y="278.38" width="7.5" height="28.62" fill="#5565ba" />
<line x1="447.5" y1="307" x2="447.5" y2="311.3" stroke="#000" stroke-width="1" />
<text x="452.77" y="316.4" font-size="8.2" text-anchor="end" fill="#111" stroke="#111" stroke-width="0.35" transform="rotate(-45 452.77 316.4)">N.S.</text>
<line x1="458.9" y1="255.06" x2="458.9" y2="258.74" stroke="#5a6090" stroke-width="0.9" />
<line x1="456.9" y1="255.06" x2="460.9" y2="255.06" stroke="#777" stroke-width="0.8" />
<rect x="455.15" y="258.24" width="7.5" height="48.76" fill="#5565ba" />
<line x1="458.5" y1="307" x2="458.5" y2="311.3" stroke="#000" stroke-width="1" />
<text x="464.2" y="316.4" font-size="8.2" text-anchor="end" fill="#111" stroke="#111" stroke-width="0.35" transform="rotate(-45 464.2 316.4)">si-<tspan font-style="italic">IKBKB</tspan></text>
<line x1="470.33" y1="244.46" x2="470.33" y2="250.26" stroke="#5a6090" stroke-width="0.9" />
<line x1="468.33" y1="244.46" x2="472.33" y2="244.46" stroke="#777" stroke-width="0.8" />
<rect x="466.58" y="249.76" width="7.5" height="57.24" fill="#5565ba" />
<line x1="470.5" y1="307" x2="470.5" y2="311.3" stroke="#000" stroke-width="1" />
<text x="475.63" y="316.4" font-size="8.2" text-anchor="end" fill="#111" stroke="#111" stroke-width="0.35" transform="rotate(-45 475.63 316.4)">si-<tspan font-style="italic">BTRC2</tspan></text>
<line x1="481.76" y1="221.14" x2="481.76" y2="228" stroke="#5a6090" stroke-width="0.9" />
<line x1="479.76" y1="221.14" x2="483.76" y2="221.14" stroke="#777" stroke-width="0.8" />
<rect x="478.01" y="227.5" width="7.5" height="79.5" fill="#5565ba" />
<line x1="481.5" y1="307" x2="481.5" y2="311.3" stroke="#000" stroke-width="1" />
<text x="487.06" y="316.4" font-size="8.2" text-anchor="end" fill="#111" stroke="#111" stroke-width="0.35" transform="rotate(-45 487.06 316.4)">si-Both</text>
<text x="445" y="195.5" font-size="10.6" text-anchor="middle" font-weight="normal" font-style="italic" fill="#111"  stroke="#111" stroke-width="0.3">KLK2</text>
<text x="375.8" y="254" font-size="10.7" text-anchor="middle" font-weight="normal" font-style="normal" fill="#111" transform="rotate(-90 375.8 254)"  stroke="#111" stroke-width="0.3">Folds of control</text>
<line x1="443.3" y1="344.8" x2="490.9" y2="344.8" stroke="#444" stroke-width="1.2" />
<text x="466.9" y="353.3" font-size="8.1" text-anchor="middle" font-weight="normal" font-style="normal" fill="#111"  stroke="#111" stroke-width="0.3">Mib</text>
<line x1="401.5" y1="266" x2="401.5" y2="291" stroke="#555" stroke-width="0.9" />
<path d="M401.5 288.3 H413 V292" stroke="#555" stroke-width="0.9" fill="none" />
<text x="408.5" y="287.5" font-size="8.5" text-anchor="middle" font-weight="normal" font-style="normal" fill="#111"  stroke="#111" stroke-width="0.3">n.s.</text>
<path d="M401.5 281 H424.5 V290" stroke="#555" stroke-width="0.9" fill="none" />
<text x="415" y="280.2" font-size="8.5" text-anchor="middle" font-weight="normal" font-style="normal" fill="#111"  stroke="#111" stroke-width="0.3">n.s.</text>
<path d="M401.5 266 H435.75 V271" stroke="#555" stroke-width="0.9" fill="none" />
<text x="418" y="268.72" font-size="12" text-anchor="middle" font-weight="bold" font-style="normal" fill="#111" >*</text>
<line x1="447" y1="216.5" x2="447" y2="276" stroke="#555" stroke-width="0.9" />
<path d="M447 250.5 H458.5 V254.5" stroke="#555" stroke-width="0.9" fill="none" />
<text x="453" y="253.22" font-size="12" text-anchor="middle" font-weight="bold" font-style="normal" fill="#111" >*</text>
<path d="M447 238.5 H470 V243" stroke="#555" stroke-width="0.9" fill="none" />
<text x="457" y="239.72" font-size="12" text-anchor="middle" font-weight="bold" font-style="normal" fill="#111" >*</text>
<path d="M447 216.5 H481.5 V220" stroke="#555" stroke-width="0.9" fill="none" />
<text x="465.5" y="218.72" font-size="12" text-anchor="middle" font-weight="bold" font-style="normal" fill="#111" >**</text>
<line x1="41.5" y1="377.5" x2="41.5" y2="474.25" stroke="#111" stroke-width="1.1" />
<line x1="41" y1="473.75" x2="139" y2="473.75" stroke="#111" stroke-width="1.1" />
<line x1="40" y1="473.75" x2="41.5" y2="473.75" stroke="#555" stroke-width="0.7" />
<text x="39.3" y="478.35" font-size="10.5" text-anchor="end" font-weight="normal" font-style="normal" fill="#111"  stroke="#111" stroke-width="0.3">0</text>
<line x1="40" y1="463.11" x2="41.5" y2="463.11" stroke="#555" stroke-width="0.7" />
<text x="39.3" y="467.71" font-size="10.5" text-anchor="end" font-weight="normal" font-style="normal" fill="#111"  stroke="#111" stroke-width="0.3">1</text>
<line x1="40" y1="452.47" x2="41.5" y2="452.47" stroke="#555" stroke-width="0.7" />
<text x="39.3" y="457.07" font-size="10.5" text-anchor="end" font-weight="normal" font-style="normal" fill="#111"  stroke="#111" stroke-width="0.3">2</text>
<line x1="40" y1="441.83" x2="41.5" y2="441.83" stroke="#555" stroke-width="0.7" />
<text x="39.3" y="446.43" font-size="10.5" text-anchor="end" font-weight="normal" font-style="normal" fill="#111"  stroke="#111" stroke-width="0.3">3</text>
<line x1="40" y1="431.19" x2="41.5" y2="431.19" stroke="#555" stroke-width="0.7" />
<text x="39.3" y="435.79" font-size="10.5" text-anchor="end" font-weight="normal" font-style="normal" fill="#111"  stroke="#111" stroke-width="0.3">4</text>
<line x1="40" y1="420.55" x2="41.5" y2="420.55" stroke="#555" stroke-width="0.7" />
<text x="39.3" y="425.15" font-size="10.5" text-anchor="end" font-weight="normal" font-style="normal" fill="#111"  stroke="#111" stroke-width="0.3">5</text>
<line x1="40" y1="409.91" x2="41.5" y2="409.91" stroke="#555" stroke-width="0.7" />
<text x="39.3" y="414.51" font-size="10.5" text-anchor="end" font-weight="normal" font-style="normal" fill="#111"  stroke="#111" stroke-width="0.3">6</text>
<line x1="40" y1="399.27" x2="41.5" y2="399.27" stroke="#555" stroke-width="0.7" />
<text x="39.3" y="403.87" font-size="10.5" text-anchor="end" font-weight="normal" font-style="normal" fill="#111"  stroke="#111" stroke-width="0.3">7</text>
<line x1="40" y1="388.63" x2="41.5" y2="388.63" stroke="#555" stroke-width="0.7" />
<text x="39.3" y="393.23" font-size="10.5" text-anchor="end" font-weight="normal" font-style="normal" fill="#111"  stroke="#111" stroke-width="0.3">8</text>
<line x1="40" y1="377.99" x2="41.5" y2="377.99" stroke="#555" stroke-width="0.7" />
<text x="39.3" y="382.59" font-size="10.5" text-anchor="end" font-weight="normal" font-style="normal" fill="#111"  stroke="#111" stroke-width="0.3">9</text>
<line x1="41.5" y1="473.75" x2="41.5" y2="476.75" stroke="#111" stroke-width="1" />
<text x="41.5" y="485.25" font-size="10.5" text-anchor="middle" font-weight="normal" font-style="normal" fill="#111"  stroke="#111" stroke-width="0.3">0</text>
<line x1="60.75" y1="473.75" x2="60.75" y2="476.75" stroke="#111" stroke-width="1" />
<text x="60.75" y="485.25" font-size="10.5" text-anchor="middle" font-weight="normal" font-style="normal" fill="#111"  stroke="#111" stroke-width="0.3">1</text>
<line x1="80" y1="473.75" x2="80" y2="476.75" stroke="#111" stroke-width="1" />
<text x="80" y="485.25" font-size="10.5" text-anchor="middle" font-weight="normal" font-style="normal" fill="#111"  stroke="#111" stroke-width="0.3">2</text>
<line x1="99.25" y1="473.75" x2="99.25" y2="476.75" stroke="#111" stroke-width="1" />
<text x="99.25" y="485.25" font-size="10.5" text-anchor="middle" font-weight="normal" font-style="normal" fill="#111"  stroke="#111" stroke-width="0.3">3</text>
<line x1="118.5" y1="473.75" x2="118.5" y2="476.75" stroke="#111" stroke-width="1" />
<text x="118.5" y="485.25" font-size="10.5" text-anchor="middle" font-weight="normal" font-style="normal" fill="#111"  stroke="#111" stroke-width="0.3">4</text>
<line x1="137.75" y1="473.75" x2="137.75" y2="476.75" stroke="#111" stroke-width="1" />
<text x="137.75" y="485.25" font-size="10.5" text-anchor="middle" font-weight="normal" font-style="normal" fill="#111"  stroke="#111" stroke-width="0.3">5</text>
<text x="26.5" y="429" font-size="10.6" text-anchor="middle" font-weight="normal" font-style="normal" fill="#111" transform="rotate(-90 26.5 429)"  stroke="#111" stroke-width="0.3">Absorbance (Folds)</text>
<text x="86" y="496.6" font-size="10.6" text-anchor="middle" font-weight="normal" font-style="normal" fill="#111"  stroke="#111" stroke-width="0.3">Vehicle (PBS) treatment</text>
<text x="79.5" y="508.2" font-size="10.6" text-anchor="middle" font-weight="normal" font-style="normal" fill="#111"  stroke="#111" stroke-width="0.3">time (d)</text>
<line x1="60.75" y1="459.918" x2="60.75" y2="460.982" stroke="#3b73b9" stroke-width="0.7" />
<line x1="59.25" y1="459.918" x2="62.25" y2="459.918" stroke="#3b73b9" stroke-width="0.7" />
<line x1="59.25" y1="460.982" x2="62.25" y2="460.982" stroke="#3b73b9" stroke-width="0.7" />
<line x1="80" y1="455.343" x2="80" y2="457.045" stroke="#3b73b9" stroke-width="0.7" />
<line x1="78.5" y1="455.343" x2="81.5" y2="455.343" stroke="#3b73b9" stroke-width="0.7" />
<line x1="78.5" y1="457.045" x2="81.5" y2="457.045" stroke="#3b73b9" stroke-width="0.7" />
<line x1="99.25" y1="450.342" x2="99.25" y2="453.534" stroke="#3b73b9" stroke-width="0.7" />
<line x1="97.75" y1="450.342" x2="100.75" y2="450.342" stroke="#3b73b9" stroke-width="0.7" />
<line x1="97.75" y1="453.534" x2="100.75" y2="453.534" stroke="#3b73b9" stroke-width="0.7" />
<line x1="118.5" y1="427.466" x2="118.5" y2="439.17" stroke="#3b73b9" stroke-width="0.7" />
<line x1="117" y1="427.466" x2="120" y2="427.466" stroke="#3b73b9" stroke-width="0.7" />
<line x1="117" y1="439.17" x2="120" y2="439.17" stroke="#3b73b9" stroke-width="0.7" />
<line x1="137.75" y1="410.974" x2="137.75" y2="423.742" stroke="#3b73b9" stroke-width="0.7" />
<line x1="136.25" y1="410.974" x2="139.25" y2="410.974" stroke="#3b73b9" stroke-width="0.7" />
<line x1="136.25" y1="423.742" x2="139.25" y2="423.742" stroke="#3b73b9" stroke-width="0.7" />
<polyline points="41.5,463.11 60.75,460.45 80,456.194 99.25,451.938 118.5,433.318 137.75,417.358" fill="none" stroke="#3b73b9" stroke-width="1.1" stroke-linejoin="round"/>
<circle cx="41.5" cy="463.11" r="1.1" fill="#3b73b9"/>
<circle cx="60.75" cy="460.45" r="1.1" fill="#3b73b9"/>
<circle cx="80" cy="456.194" r="1.1" fill="#3b73b9"/>
<circle cx="99.25" cy="451.938" r="1.1" fill="#3b73b9"/>
<circle cx="118.5" cy="433.318" r="1.1" fill="#3b73b9"/>
<circle cx="137.75" cy="417.358" r="1.1" fill="#3b73b9"/>
<line x1="60.75" y1="454.598" x2="60.75" y2="456.726" stroke="#7db13c" stroke-width="0.7" />
<line x1="59.25" y1="454.598" x2="62.25" y2="454.598" stroke="#7db13c" stroke-width="0.7" />
<line x1="59.25" y1="456.726" x2="62.25" y2="456.726" stroke="#7db13c" stroke-width="0.7" />
<line x1="80" y1="447.682" x2="80" y2="450.874" stroke="#7db13c" stroke-width="0.7" />
<line x1="78.5" y1="447.682" x2="81.5" y2="447.682" stroke="#7db13c" stroke-width="0.7" />
<line x1="78.5" y1="450.874" x2="81.5" y2="450.874" stroke="#7db13c" stroke-width="0.7" />
<line x1="99.25" y1="441.83" x2="99.25" y2="445.022" stroke="#7db13c" stroke-width="0.7" />
<line x1="97.75" y1="441.83" x2="100.75" y2="441.83" stroke="#7db13c" stroke-width="0.7" />
<line x1="97.75" y1="445.022" x2="100.75" y2="445.022" stroke="#7db13c" stroke-width="0.7" />
<line x1="118.5" y1="406.718" x2="118.5" y2="421.614" stroke="#7db13c" stroke-width="0.7" />
<line x1="117" y1="406.718" x2="120" y2="406.718" stroke="#7db13c" stroke-width="0.7" />
<line x1="117" y1="421.614" x2="120" y2="421.614" stroke="#7db13c" stroke-width="0.7" />
<line x1="137.75" y1="386.502" x2="137.75" y2="397.142" stroke="#7db13c" stroke-width="0.7" />
<line x1="136.25" y1="386.502" x2="139.25" y2="386.502" stroke="#7db13c" stroke-width="0.7" />
<line x1="136.25" y1="397.142" x2="139.25" y2="397.142" stroke="#7db13c" stroke-width="0.7" />
<polyline points="41.5,463.11 60.75,455.662 80,449.278 99.25,443.426 118.5,414.166 137.75,391.822" fill="none" stroke="#7db13c" stroke-width="1.15" stroke-linejoin="round"/>
<path d="M40.3 461.91 l2.4 2.4 m0 -2.4 l-2.4 2.4" stroke="#7db13c" stroke-width="0.7"/>
<path d="M59.55 454.462 l2.4 2.4 m0 -2.4 l-2.4 2.4" stroke="#7db13c" stroke-width="0.7"/>
<path d="M78.8 448.078 l2.4 2.4 m0 -2.4 l-2.4 2.4" stroke="#7db13c" stroke-width="0.7"/>
<path d="M98.05 442.226 l2.4 2.4 m0 -2.4 l-2.4 2.4" stroke="#7db13c" stroke-width="0.7"/>
<path d="M117.3 412.966 l2.4 2.4 m0 -2.4 l-2.4 2.4" stroke="#7db13c" stroke-width="0.7"/>
<path d="M136.55 390.622 l2.4 2.4 m0 -2.4 l-2.4 2.4" stroke="#7db13c" stroke-width="0.7"/>
<line x1="60.75" y1="454.066" x2="60.75" y2="456.194" stroke="#e8534f" stroke-width="0.7" />
<line x1="59.25" y1="454.066" x2="62.25" y2="454.066" stroke="#e8534f" stroke-width="0.7" />
<line x1="59.25" y1="456.194" x2="62.25" y2="456.194" stroke="#e8534f" stroke-width="0.7" />
<line x1="80" y1="447.15" x2="80" y2="449.278" stroke="#e8534f" stroke-width="0.7" />
<line x1="78.5" y1="447.15" x2="81.5" y2="447.15" stroke="#e8534f" stroke-width="0.7" />
<line x1="78.5" y1="449.278" x2="81.5" y2="449.278" stroke="#e8534f" stroke-width="0.7" />
<line x1="99.25" y1="440.766" x2="99.25" y2="443.958" stroke="#e8534f" stroke-width="0.7" />
<line x1="97.75" y1="440.766" x2="100.75" y2="440.766" stroke="#e8534f" stroke-width="0.7" />
<line x1="97.75" y1="443.958" x2="100.75" y2="443.958" stroke="#e8534f" stroke-width="0.7" />
<line x1="118.5" y1="406.718" x2="118.5" y2="415.23" stroke="#e8534f" stroke-width="0.7" />
<line x1="117" y1="406.718" x2="120" y2="406.718" stroke="#e8534f" stroke-width="0.7" />
<line x1="117" y1="415.23" x2="120" y2="415.23" stroke="#e8534f" stroke-width="0.7" />
<line x1="137.75" y1="385.438" x2="137.75" y2="393.95" stroke="#e8534f" stroke-width="0.7" />
<line x1="136.25" y1="385.438" x2="139.25" y2="385.438" stroke="#e8534f" stroke-width="0.7" />
<line x1="136.25" y1="393.95" x2="139.25" y2="393.95" stroke="#e8534f" stroke-width="0.7" />
<polyline points="41.5,463.11 60.75,455.13 80,448.214 99.25,442.362 118.5,410.974 137.75,389.694" fill="none" stroke="#e8534f" stroke-width="1.15" stroke-linejoin="round"/>
<circle cx="41.5" cy="463.11" r="1.1" fill="#e8534f"/>
<circle cx="60.75" cy="455.13" r="1.1" fill="#e8534f"/>
<circle cx="80" cy="448.214" r="1.1" fill="#e8534f"/>
<circle cx="99.25" cy="442.362" r="1.1" fill="#e8534f"/>
<circle cx="118.5" cy="410.974" r="1.1" fill="#e8534f"/>
<circle cx="137.75" cy="389.694" r="1.1" fill="#e8534f"/>
<line x1="60.75" y1="450.023" x2="60.75" y2="451.725" stroke="#b23a36" stroke-width="0.7" />
<line x1="59.25" y1="450.023" x2="62.25" y2="450.023" stroke="#b23a36" stroke-width="0.7" />
<line x1="59.25" y1="451.725" x2="62.25" y2="451.725" stroke="#b23a36" stroke-width="0.7" />
<line x1="80" y1="443.426" x2="80" y2="446.618" stroke="#b23a36" stroke-width="0.7" />
<line x1="78.5" y1="443.426" x2="81.5" y2="443.426" stroke="#b23a36" stroke-width="0.7" />
<line x1="78.5" y1="446.618" x2="81.5" y2="446.618" stroke="#b23a36" stroke-width="0.7" />
<line x1="99.25" y1="440.234" x2="99.25" y2="443.426" stroke="#b23a36" stroke-width="0.7" />
<line x1="97.75" y1="440.234" x2="100.75" y2="440.234" stroke="#b23a36" stroke-width="0.7" />
<line x1="97.75" y1="443.426" x2="100.75" y2="443.426" stroke="#b23a36" stroke-width="0.7" />
<line x1="118.5" y1="406.718" x2="118.5" y2="417.358" stroke="#b23a36" stroke-width="0.7" />
<line x1="117" y1="406.718" x2="120" y2="406.718" stroke="#b23a36" stroke-width="0.7" />
<line x1="117" y1="417.358" x2="120" y2="417.358" stroke="#b23a36" stroke-width="0.7" />
<line x1="137.75" y1="383.31" x2="137.75" y2="393.95" stroke="#b23a36" stroke-width="0.7" />
<line x1="136.25" y1="383.31" x2="139.25" y2="383.31" stroke="#b23a36" stroke-width="0.7" />
<line x1="136.25" y1="393.95" x2="139.25" y2="393.95" stroke="#b23a36" stroke-width="0.7" />
<polyline points="41.5,463.11 60.75,450.874 80,445.022 99.25,441.83 118.5,412.038 137.75,388.63" fill="none" stroke="#b23a36" stroke-width="1.15" stroke-linejoin="round"/>
<rect x="40" y="461.61" width="3" height="3" fill="#b23a36" />
<rect x="59.25" y="449.374" width="3" height="3" fill="#b23a36" />
<rect x="78.5" y="443.522" width="3" height="3" fill="#b23a36" />
<rect x="97.75" y="440.33" width="3" height="3" fill="#b23a36" />
<rect x="117" y="410.538" width="3" height="3" fill="#b23a36" />
<rect x="136.25" y="387.13" width="3" height="3" fill="#b23a36" />
<line x1="50" y1="388.75" x2="56.5" y2="388.75" stroke="#3b73b9" stroke-width="0.9" />
<circle cx="53.25" cy="388.75" r="1.1" fill="#3b73b9"/>
<text x="58" y="391.05" font-size="6.4" text-anchor="start" font-weight="normal" font-style="normal" fill="#222" stroke="#222" stroke-width="0.4">Control</text>
<line x1="50" y1="398" x2="56.5" y2="398" stroke="#b23a36" stroke-width="0.9" />
<rect x="51.75" y="396.5" width="3" height="3" fill="#b23a36" />
<text x="58" y="400.3" font-size="6.4" text-anchor="start" font-weight="normal" font-style="normal" fill="#222" stroke="#222" stroke-width="0.4">AR-WT</text>
<line x1="50" y1="407.5" x2="56.5" y2="407.5" stroke="#7db13c" stroke-width="0.9" />
<path d="M52.05 406.3 l2.4 2.4 m0 -2.4 l-2.4 2.4" stroke="#7db13c" stroke-width="0.7"/>
<text x="58" y="409.8" font-size="6.4" text-anchor="start" font-weight="normal" font-style="normal" fill="#222" stroke="#222" stroke-width="0.4">AR-S158A/S162A</text>
<line x1="50" y1="416.5" x2="56.5" y2="416.5" stroke="#e8534f" stroke-width="0.9" />
<circle cx="53.25" cy="416.5" r="1.1" fill="#e8534f"/>
<text x="58" y="418.8" font-size="6.4" text-anchor="start" font-weight="normal" font-style="normal" fill="#222" stroke="#222" stroke-width="0.4">AR-S298A/S302A</text>
<path d="M143 395.2 H147.4 V417.4 H143" stroke="#333" stroke-width="0.8" fill="none" />
<path d="M148 391.8 H152.4 V417.4 H148" stroke="#333" stroke-width="0.8" fill="none" />
<path d="M153.2 389.5 H156.8 V417.4 H153.2" stroke="#333" stroke-width="0.8" fill="none" />
<text x="149.7" y="408.76" font-size="11" text-anchor="middle" font-weight="bold" font-style="normal" fill="#111" >*</text>
<text x="154.8" y="407.66" font-size="11" text-anchor="middle" font-weight="bold" font-style="normal" fill="#111" >*</text>
<text x="159.9" y="405.56" font-size="11" text-anchor="middle" font-weight="bold" font-style="normal" fill="#111" >*</text>
<line x1="205.5" y1="380" x2="205.5" y2="475" stroke="#111" stroke-width="1.1" />
<line x1="205" y1="474.5" x2="303" y2="474.5" stroke="#111" stroke-width="1.1" />
<line x1="204" y1="474.5" x2="205.5" y2="474.5" stroke="#555" stroke-width="0.7" />
<text x="203.3" y="479.1" font-size="10.5" text-anchor="end" font-weight="normal" font-style="normal" fill="#111"  stroke="#111" stroke-width="0.3">0</text>
<line x1="204" y1="458.835" x2="205.5" y2="458.835" stroke="#555" stroke-width="0.7" />
<text x="203.3" y="463.435" font-size="10.5" text-anchor="end" font-weight="normal" font-style="normal" fill="#111"  stroke="#111" stroke-width="0.3">0.5</text>
<line x1="204" y1="443.17" x2="205.5" y2="443.17" stroke="#555" stroke-width="0.7" />
<text x="203.3" y="447.77" font-size="10.5" text-anchor="end" font-weight="normal" font-style="normal" fill="#111"  stroke="#111" stroke-width="0.3">1.0</text>
<line x1="204" y1="427.505" x2="205.5" y2="427.505" stroke="#555" stroke-width="0.7" />
<text x="203.3" y="432.105" font-size="10.5" text-anchor="end" font-weight="normal" font-style="normal" fill="#111"  stroke="#111" stroke-width="0.3">1.5</text>
<line x1="204" y1="411.84" x2="205.5" y2="411.84" stroke="#555" stroke-width="0.7" />
<text x="203.3" y="416.44" font-size="10.5" text-anchor="end" font-weight="normal" font-style="normal" fill="#111"  stroke="#111" stroke-width="0.3">2.0</text>
<line x1="204" y1="396.175" x2="205.5" y2="396.175" stroke="#555" stroke-width="0.7" />
<text x="203.3" y="400.775" font-size="10.5" text-anchor="end" font-weight="normal" font-style="normal" fill="#111"  stroke="#111" stroke-width="0.3">2.5</text>
<line x1="204" y1="380.51" x2="205.5" y2="380.51" stroke="#555" stroke-width="0.7" />
<text x="203.3" y="385.11" font-size="10.5" text-anchor="end" font-weight="normal" font-style="normal" fill="#111"  stroke="#111" stroke-width="0.3">3.0</text>
<line x1="205.5" y1="474.5" x2="205.5" y2="477.5" stroke="#111" stroke-width="1" />
<text x="205.5" y="486.9" font-size="10.5" text-anchor="middle" font-weight="normal" font-style="normal" fill="#111"  stroke="#111" stroke-width="0.3">0</text>
<line x1="224.65" y1="474.5" x2="224.65" y2="477.5" stroke="#111" stroke-width="1" />
<text x="224.65" y="486.9" font-size="10.5" text-anchor="middle" font-weight="normal" font-style="normal" fill="#111"  stroke="#111" stroke-width="0.3">1</text>
<line x1="243.8" y1="474.5" x2="243.8" y2="477.5" stroke="#111" stroke-width="1" />
<text x="243.8" y="486.9" font-size="10.5" text-anchor="middle" font-weight="normal" font-style="normal" fill="#111"  stroke="#111" stroke-width="0.3">2</text>
<line x1="262.95" y1="474.5" x2="262.95" y2="477.5" stroke="#111" stroke-width="1" />
<text x="262.95" y="486.9" font-size="10.5" text-anchor="middle" font-weight="normal" font-style="normal" fill="#111"  stroke="#111" stroke-width="0.3">3</text>
<line x1="282.1" y1="474.5" x2="282.1" y2="477.5" stroke="#111" stroke-width="1" />
<text x="282.1" y="486.9" font-size="10.5" text-anchor="middle" font-weight="normal" font-style="normal" fill="#111"  stroke="#111" stroke-width="0.3">4</text>
<line x1="301.25" y1="474.5" x2="301.25" y2="477.5" stroke="#111" stroke-width="1" />
<text x="301.25" y="486.9" font-size="10.5" text-anchor="middle" font-weight="normal" font-style="normal" fill="#111"  stroke="#111" stroke-width="0.3">5</text>
<text x="184.2" y="426" font-size="10.6" text-anchor="middle" font-weight="normal" font-style="normal" fill="#111" transform="rotate(-90 184.2 426)"  stroke="#111" stroke-width="0.3">Absorbance (Folds)</text>
<text x="252.5" y="497.7" font-size="10.7" text-anchor="middle" font-weight="normal" font-style="normal" fill="#111"  stroke="#111" stroke-width="0.3">TNFα treatment time (d)</text>
<line x1="205.5" y1="441.603" x2="205.5" y2="444.737" stroke="#3b73b9" stroke-width="0.7" />
<line x1="204" y1="441.603" x2="207" y2="441.603" stroke="#3b73b9" stroke-width="0.7" />
<line x1="204" y1="444.737" x2="207" y2="444.737" stroke="#3b73b9" stroke-width="0.7" />
<line x1="224.65" y1="436.904" x2="224.65" y2="440.037" stroke="#3b73b9" stroke-width="0.7" />
<line x1="223.15" y1="436.904" x2="226.15" y2="436.904" stroke="#3b73b9" stroke-width="0.7" />
<line x1="223.15" y1="440.037" x2="226.15" y2="440.037" stroke="#3b73b9" stroke-width="0.7" />
<line x1="243.8" y1="437.531" x2="243.8" y2="443.797" stroke="#3b73b9" stroke-width="0.7" />
<line x1="242.3" y1="437.531" x2="245.3" y2="437.531" stroke="#3b73b9" stroke-width="0.7" />
<line x1="242.3" y1="443.797" x2="245.3" y2="443.797" stroke="#3b73b9" stroke-width="0.7" />
<line x1="262.95" y1="443.797" x2="262.95" y2="446.93" stroke="#3b73b9" stroke-width="0.7" />
<line x1="261.45" y1="443.797" x2="264.45" y2="443.797" stroke="#3b73b9" stroke-width="0.7" />
<line x1="261.45" y1="446.93" x2="264.45" y2="446.93" stroke="#3b73b9" stroke-width="0.7" />
<line x1="282.1" y1="447.87" x2="282.1" y2="463.534" stroke="#3b73b9" stroke-width="0.7" />
<line x1="280.6" y1="447.87" x2="283.6" y2="447.87" stroke="#3b73b9" stroke-width="0.7" />
<line x1="280.6" y1="463.534" x2="283.6" y2="463.534" stroke="#3b73b9" stroke-width="0.7" />
<line x1="301.25" y1="462.595" x2="301.25" y2="467.607" stroke="#3b73b9" stroke-width="0.7" />
<line x1="299.75" y1="462.595" x2="302.75" y2="462.595" stroke="#3b73b9" stroke-width="0.7" />
<line x1="299.75" y1="467.607" x2="302.75" y2="467.607" stroke="#3b73b9" stroke-width="0.7" />
<polyline points="205.5,443.17 224.65,438.471 243.8,440.664 262.95,445.363 282.1,455.702 301.25,465.101" fill="none" stroke="#3b73b9" stroke-width="1.15" stroke-linejoin="round"/>
<circle cx="205.5" cy="443.17" r="1.1" fill="#3b73b9"/>
<circle cx="224.65" cy="438.471" r="1.1" fill="#3b73b9"/>
<circle cx="243.8" cy="440.664" r="1.1" fill="#3b73b9"/>
<circle cx="262.95" cy="445.363" r="1.1" fill="#3b73b9"/>
<circle cx="282.1" cy="455.702" r="1.1" fill="#3b73b9"/>
<circle cx="301.25" cy="465.101" r="1.1" fill="#3b73b9"/>
<line x1="205.5" y1="441.603" x2="205.5" y2="444.737" stroke="#b23a36" stroke-width="0.7" />
<line x1="204" y1="441.603" x2="207" y2="441.603" stroke="#b23a36" stroke-width="0.7" />
<line x1="204" y1="444.737" x2="207" y2="444.737" stroke="#b23a36" stroke-width="0.7" />
<line x1="224.65" y1="435.337" x2="224.65" y2="438.471" stroke="#b23a36" stroke-width="0.7" />
<line x1="223.15" y1="435.337" x2="226.15" y2="435.337" stroke="#b23a36" stroke-width="0.7" />
<line x1="223.15" y1="438.471" x2="226.15" y2="438.471" stroke="#b23a36" stroke-width="0.7" />
<line x1="243.8" y1="433.771" x2="243.8" y2="440.037" stroke="#b23a36" stroke-width="0.7" />
<line x1="242.3" y1="433.771" x2="245.3" y2="433.771" stroke="#b23a36" stroke-width="0.7" />
<line x1="242.3" y1="440.037" x2="245.3" y2="440.037" stroke="#b23a36" stroke-width="0.7" />
<line x1="262.95" y1="433.771" x2="262.95" y2="443.17" stroke="#b23a36" stroke-width="0.7" />
<line x1="261.45" y1="433.771" x2="264.45" y2="433.771" stroke="#b23a36" stroke-width="0.7" />
<line x1="261.45" y1="443.17" x2="264.45" y2="443.17" stroke="#b23a36" stroke-width="0.7" />
<line x1="282.1" y1="447.87" x2="282.1" y2="463.534" stroke="#b23a36" stroke-width="0.7" />
<line x1="280.6" y1="447.87" x2="283.6" y2="447.87" stroke="#b23a36" stroke-width="0.7" />
<line x1="280.6" y1="463.534" x2="283.6" y2="463.534" stroke="#b23a36" stroke-width="0.7" />
<line x1="301.25" y1="458.208" x2="301.25" y2="461.341" stroke="#b23a36" stroke-width="0.7" />
<line x1="299.75" y1="458.208" x2="302.75" y2="458.208" stroke="#b23a36" stroke-width="0.7" />
<line x1="299.75" y1="461.341" x2="302.75" y2="461.341" stroke="#b23a36" stroke-width="0.7" />
<polyline points="205.5,443.17 224.65,436.904 243.8,436.904 262.95,438.471 282.1,455.702 301.25,459.775" fill="none" stroke="#b23a36" stroke-width="1.15" stroke-linejoin="round"/>
<rect x="204" y="441.67" width="3" height="3" fill="#b23a36" />
<rect x="223.15" y="435.404" width="3" height="3" fill="#b23a36" />
<rect x="242.3" y="435.404" width="3" height="3" fill="#b23a36" />
<rect x="261.45" y="436.971" width="3" height="3" fill="#b23a36" />
<rect x="280.6" y="454.202" width="3" height="3" fill="#b23a36" />
<rect x="299.75" y="458.275" width="3" height="3" fill="#b23a36" />
<line x1="205.5" y1="441.603" x2="205.5" y2="444.737" stroke="#9aa63a" stroke-width="0.7" />
<line x1="204" y1="441.603" x2="207" y2="441.603" stroke="#9aa63a" stroke-width="0.7" />
<line x1="204" y1="444.737" x2="207" y2="444.737" stroke="#9aa63a" stroke-width="0.7" />
<line x1="224.65" y1="435.337" x2="224.65" y2="438.471" stroke="#9aa63a" stroke-width="0.7" />
<line x1="223.15" y1="435.337" x2="226.15" y2="435.337" stroke="#9aa63a" stroke-width="0.7" />
<line x1="223.15" y1="438.471" x2="226.15" y2="438.471" stroke="#9aa63a" stroke-width="0.7" />
<line x1="243.8" y1="433.144" x2="243.8" y2="439.41" stroke="#9aa63a" stroke-width="0.7" />
<line x1="242.3" y1="433.144" x2="245.3" y2="433.144" stroke="#9aa63a" stroke-width="0.7" />
<line x1="242.3" y1="439.41" x2="245.3" y2="439.41" stroke="#9aa63a" stroke-width="0.7" />
<line x1="262.95" y1="442.23" x2="262.95" y2="447.243" stroke="#9aa63a" stroke-width="0.7" />
<line x1="261.45" y1="442.23" x2="264.45" y2="442.23" stroke="#9aa63a" stroke-width="0.7" />
<line x1="261.45" y1="447.243" x2="264.45" y2="447.243" stroke="#9aa63a" stroke-width="0.7" />
<line x1="282.1" y1="450.063" x2="282.1" y2="462.595" stroke="#9aa63a" stroke-width="0.7" />
<line x1="280.6" y1="450.063" x2="283.6" y2="450.063" stroke="#9aa63a" stroke-width="0.7" />
<line x1="280.6" y1="462.595" x2="283.6" y2="462.595" stroke="#9aa63a" stroke-width="0.7" />
<line x1="301.25" y1="458.208" x2="301.25" y2="461.341" stroke="#9aa63a" stroke-width="0.7" />
<line x1="299.75" y1="458.208" x2="302.75" y2="458.208" stroke="#9aa63a" stroke-width="0.7" />
<line x1="299.75" y1="461.341" x2="302.75" y2="461.341" stroke="#9aa63a" stroke-width="0.7" />
<polyline points="205.5,443.17 224.65,436.904 243.8,436.277 262.95,444.736 282.1,456.329 301.25,459.775" fill="none" stroke="#9aa63a" stroke-width="1.15" stroke-linejoin="round"/>
<path d="M204.3 441.97 l2.4 2.4 m0 -2.4 l-2.4 2.4" stroke="#9aa63a" stroke-width="0.7"/>
<path d="M223.45 435.704 l2.4 2.4 m0 -2.4 l-2.4 2.4" stroke="#9aa63a" stroke-width="0.7"/>
<path d="M242.6 435.077 l2.4 2.4 m0 -2.4 l-2.4 2.4" stroke="#9aa63a" stroke-width="0.7"/>
<path d="M261.75 443.536 l2.4 2.4 m0 -2.4 l-2.4 2.4" stroke="#9aa63a" stroke-width="0.7"/>
<path d="M280.9 455.129 l2.4 2.4 m0 -2.4 l-2.4 2.4" stroke="#9aa63a" stroke-width="0.7"/>
<path d="M300.05 458.575 l2.4 2.4 m0 -2.4 l-2.4 2.4" stroke="#9aa63a" stroke-width="0.7"/>
<line x1="205.5" y1="441.603" x2="205.5" y2="444.737" stroke="#e8536a" stroke-width="0.7" />
<line x1="204" y1="441.603" x2="207" y2="441.603" stroke="#e8536a" stroke-width="0.7" />
<line x1="204" y1="444.737" x2="207" y2="444.737" stroke="#e8536a" stroke-width="0.7" />
<line x1="224.65" y1="427.192" x2="224.65" y2="430.951" stroke="#e8536a" stroke-width="0.7" />
<line x1="223.15" y1="427.192" x2="226.15" y2="427.192" stroke="#e8536a" stroke-width="0.7" />
<line x1="223.15" y1="430.951" x2="226.15" y2="430.951" stroke="#e8536a" stroke-width="0.7" />
<line x1="243.8" y1="418.106" x2="243.8" y2="426.252" stroke="#e8536a" stroke-width="0.7" />
<line x1="242.3" y1="418.106" x2="245.3" y2="418.106" stroke="#e8536a" stroke-width="0.7" />
<line x1="242.3" y1="426.252" x2="245.3" y2="426.252" stroke="#e8536a" stroke-width="0.7" />
<line x1="262.95" y1="411.213" x2="262.95" y2="424.999" stroke="#e8536a" stroke-width="0.7" />
<line x1="261.45" y1="411.213" x2="264.45" y2="411.213" stroke="#e8536a" stroke-width="0.7" />
<line x1="261.45" y1="424.999" x2="264.45" y2="424.999" stroke="#e8536a" stroke-width="0.7" />
<line x1="282.1" y1="407.767" x2="282.1" y2="425.312" stroke="#e8536a" stroke-width="0.7" />
<line x1="280.6" y1="407.767" x2="283.6" y2="407.767" stroke="#e8536a" stroke-width="0.7" />
<line x1="280.6" y1="425.312" x2="283.6" y2="425.312" stroke="#e8536a" stroke-width="0.7" />
<line x1="301.25" y1="407.141" x2="301.25" y2="417.793" stroke="#e8536a" stroke-width="0.7" />
<line x1="299.75" y1="407.141" x2="302.75" y2="407.141" stroke="#e8536a" stroke-width="0.7" />
<line x1="299.75" y1="417.793" x2="302.75" y2="417.793" stroke="#e8536a" stroke-width="0.7" />
<polyline points="205.5,443.17 224.65,429.072 243.8,422.179 262.95,418.106 282.1,416.539 301.25,412.467" fill="none" stroke="#e8536a" stroke-width="1.15" stroke-linejoin="round"/>
<circle cx="205.5" cy="443.17" r="1.1" fill="#e8536a"/>
<circle cx="224.65" cy="429.072" r="1.1" fill="#e8536a"/>
<circle cx="243.8" cy="422.179" r="1.1" fill="#e8536a"/>
<circle cx="262.95" cy="418.106" r="1.1" fill="#e8536a"/>
<circle cx="282.1" cy="416.539" r="1.1" fill="#e8536a"/>
<circle cx="301.25" cy="412.467" r="1.1" fill="#e8536a"/>
<line x1="211.5" y1="381.25" x2="218" y2="381.25" stroke="#3b73b9" stroke-width="0.9" />
<circle cx="214.75" cy="381.25" r="1.1" fill="#3b73b9"/>
<text x="220" y="383.55" font-size="6.4" text-anchor="start" font-weight="normal" font-style="normal" fill="#222" stroke="#222" stroke-width="0.4">Control + TNFα</text>
<line x1="211.5" y1="389.5" x2="218" y2="389.5" stroke="#b23a36" stroke-width="0.9" />
<rect x="213.25" y="388" width="3" height="3" fill="#b23a36" />
<text x="220" y="391.8" font-size="6.4" text-anchor="start" font-weight="normal" font-style="normal" fill="#222" stroke="#222" stroke-width="0.4">AR-WT + TNFα</text>
<line x1="211.5" y1="398" x2="218" y2="398" stroke="#9aa63a" stroke-width="0.9" />
<path d="M213.55 396.8 l2.4 2.4 m0 -2.4 l-2.4 2.4" stroke="#9aa63a" stroke-width="0.7"/>
<text x="220" y="400.3" font-size="6.4" text-anchor="start" font-weight="normal" font-style="normal" fill="#222" stroke="#222" stroke-width="0.4">AR-S158A/S162A + TNFα</text>
<line x1="211.5" y1="406.5" x2="218" y2="406.5" stroke="#e8536a" stroke-width="0.9" />
<circle cx="214.75" cy="406.5" r="1.1" fill="#e8536a"/>
<text x="220" y="408.8" font-size="6.4" text-anchor="start" font-weight="normal" font-style="normal" fill="#222" stroke="#222" stroke-width="0.4">AR-S298A/S302A + TNFα</text>
<path d="M304.4 411.5 H308.5 V462.3 H304.4" stroke="#333" stroke-width="0.8" fill="none" />
<path d="M313 411.5 H317.5 V462.3 H313" stroke="#333" stroke-width="0.8" fill="none" />
<path d="M322 411.5 H326.7 V467.5 H322" stroke="#333" stroke-width="0.8" fill="none" />
<text x="305.715" y="440.4" font-size="10.5" text-anchor="middle" font-weight="bold" fill="#111" transform="rotate(90 305.715 440.4)">**</text>
<text x="315.015" y="440" font-size="10.5" text-anchor="middle" font-weight="bold" fill="#111" transform="rotate(90 315.015 440)">**</text>
<text x="324.215" y="442" font-size="10.5" text-anchor="middle" font-weight="bold" fill="#111" transform="rotate(90 324.215 442)">**</text>
<line x1="381.5" y1="381.5" x2="381.5" y2="495" stroke="#111" stroke-width="1.1" />
<line x1="381" y1="494.5" x2="499" y2="494.5" stroke="#111" stroke-width="1.1" />
<line x1="378.5" y1="494.5" x2="381.5" y2="494.5" stroke="#111" stroke-width="1" />
<text x="377.9" y="498.9" font-size="10.2" text-anchor="end" font-weight="normal" font-style="normal" fill="#111"  stroke="#111" stroke-width="0.3">0</text>
<line x1="378.5" y1="478.43" x2="381.5" y2="478.43" stroke="#111" stroke-width="1" />
<text x="377.9" y="482.83" font-size="10.2" text-anchor="end" font-weight="normal" font-style="normal" fill="#111"  stroke="#111" stroke-width="0.3">100</text>
<line x1="378.5" y1="462.36" x2="381.5" y2="462.36" stroke="#111" stroke-width="1" />
<text x="377.9" y="466.76" font-size="10.2" text-anchor="end" font-weight="normal" font-style="normal" fill="#111"  stroke="#111" stroke-width="0.3">200</text>
<line x1="378.5" y1="446.29" x2="381.5" y2="446.29" stroke="#111" stroke-width="1" />
<text x="377.9" y="450.69" font-size="10.2" text-anchor="end" font-weight="normal" font-style="normal" fill="#111"  stroke="#111" stroke-width="0.3">300</text>
<line x1="378.5" y1="430.22" x2="381.5" y2="430.22" stroke="#111" stroke-width="1" />
<text x="377.9" y="434.62" font-size="10.2" text-anchor="end" font-weight="normal" font-style="normal" fill="#111"  stroke="#111" stroke-width="0.3">400</text>
<line x1="378.5" y1="414.15" x2="381.5" y2="414.15" stroke="#111" stroke-width="1" />
<text x="377.9" y="418.55" font-size="10.2" text-anchor="end" font-weight="normal" font-style="normal" fill="#111"  stroke="#111" stroke-width="0.3">500</text>
<line x1="378.5" y1="398.08" x2="381.5" y2="398.08" stroke="#111" stroke-width="1" />
<text x="377.9" y="402.48" font-size="10.2" text-anchor="end" font-weight="normal" font-style="normal" fill="#111"  stroke="#111" stroke-width="0.3">600</text>
<line x1="378.5" y1="382.01" x2="381.5" y2="382.01" stroke="#111" stroke-width="1" />
<text x="377.9" y="386.41" font-size="10.2" text-anchor="end" font-weight="normal" font-style="normal" fill="#111"  stroke="#111" stroke-width="0.3">700</text>
<line x1="386.5" y1="494.5" x2="386.5" y2="497.5" stroke="#111" stroke-width="1" />
<text x="386.5" y="507.8" font-size="10.5" text-anchor="middle" font-weight="normal" font-style="normal" fill="#111"  stroke="#111" stroke-width="0.3">0</text>
<line x1="398.8" y1="494.5" x2="398.8" y2="497.5" stroke="#111" stroke-width="1" />
<text x="398.8" y="507.8" font-size="10.5" text-anchor="middle" font-weight="normal" font-style="normal" fill="#111"  stroke="#111" stroke-width="0.3">3</text>
<line x1="411.1" y1="494.5" x2="411.1" y2="497.5" stroke="#111" stroke-width="1" />
<text x="411.1" y="507.8" font-size="10.5" text-anchor="middle" font-weight="normal" font-style="normal" fill="#111"  stroke="#111" stroke-width="0.3">6</text>
<line x1="423.4" y1="494.5" x2="423.4" y2="497.5" stroke="#111" stroke-width="1" />
<text x="423.4" y="507.8" font-size="10.5" text-anchor="middle" font-weight="normal" font-style="normal" fill="#111"  stroke="#111" stroke-width="0.3">9</text>
<line x1="435.7" y1="494.5" x2="435.7" y2="497.5" stroke="#111" stroke-width="1" />
<text x="435.7" y="507.8" font-size="10.5" text-anchor="middle" font-weight="normal" font-style="normal" fill="#111"  stroke="#111" stroke-width="0.3">12</text>
<line x1="448" y1="494.5" x2="448" y2="497.5" stroke="#111" stroke-width="1" />
<text x="448" y="507.8" font-size="10.5" text-anchor="middle" font-weight="normal" font-style="normal" fill="#111"  stroke="#111" stroke-width="0.3">15</text>
<line x1="460.3" y1="494.5" x2="460.3" y2="497.5" stroke="#111" stroke-width="1" />
<text x="460.3" y="507.8" font-size="10.5" text-anchor="middle" font-weight="normal" font-style="normal" fill="#111"  stroke="#111" stroke-width="0.3">18</text>
<line x1="472.6" y1="494.5" x2="472.6" y2="497.5" stroke="#111" stroke-width="1" />
<text x="472.6" y="507.8" font-size="10.5" text-anchor="middle" font-weight="normal" font-style="normal" fill="#111"  stroke="#111" stroke-width="0.3">21</text>
<line x1="484.9" y1="494.5" x2="484.9" y2="497.5" stroke="#111" stroke-width="1" />
<text x="484.9" y="507.8" font-size="10.5" text-anchor="middle" font-weight="normal" font-style="normal" fill="#111"  stroke="#111" stroke-width="0.3">24</text>
<line x1="497.2" y1="494.5" x2="497.2" y2="497.5" stroke="#111" stroke-width="1" />
<text x="497.2" y="507.8" font-size="10.5" text-anchor="middle" font-weight="normal" font-style="normal" fill="#111"  stroke="#111" stroke-width="0.3">27</text>
<text x="354.5" y="437.5" font-size="10.6" text-anchor="middle" font-weight="normal" font-style="normal" fill="#111" transform="rotate(-90 354.5 437.5)"  stroke="#111" stroke-width="0.3">Tumor volume (mm<tspan font-size="6.5" dy="-4">3</tspan><tspan dy="4"> )</tspan></text>
<text x="438" y="518.3" font-size="10.4" text-anchor="middle" font-weight="normal" font-style="normal" fill="#111"  stroke="#111" stroke-width="0.3">Tumor growth time (d)</text>
<line x1="382.3" y1="474.413" x2="382.3" y2="480.841" stroke="#4a4a4a" stroke-width="0.7" />
<line x1="380.5" y1="474.413" x2="384.1" y2="474.413" stroke="#4a4a4a" stroke-width="0.7" />
<line x1="380.5" y1="480.841" x2="384.1" y2="480.841" stroke="#4a4a4a" stroke-width="0.7" />
<line x1="398.8" y1="476.019" x2="398.8" y2="480.841" stroke="#4a4a4a" stroke-width="0.7" />
<line x1="397" y1="476.019" x2="400.6" y2="476.019" stroke="#4a4a4a" stroke-width="0.7" />
<line x1="397" y1="480.841" x2="400.6" y2="480.841" stroke="#4a4a4a" stroke-width="0.7" />
<line x1="411.1" y1="469.913" x2="411.1" y2="477.948" stroke="#4a4a4a" stroke-width="0.7" />
<line x1="409.3" y1="469.913" x2="412.9" y2="469.913" stroke="#4a4a4a" stroke-width="0.7" />
<line x1="409.3" y1="477.948" x2="412.9" y2="477.948" stroke="#4a4a4a" stroke-width="0.7" />
<line x1="423.4" y1="467.985" x2="423.4" y2="476.019" stroke="#4a4a4a" stroke-width="0.7" />
<line x1="421.6" y1="467.985" x2="425.2" y2="467.985" stroke="#4a4a4a" stroke-width="0.7" />
<line x1="421.6" y1="476.019" x2="425.2" y2="476.019" stroke="#4a4a4a" stroke-width="0.7" />
<line x1="435.7" y1="460.753" x2="435.7" y2="472.002" stroke="#4a4a4a" stroke-width="0.7" />
<line x1="433.9" y1="460.753" x2="437.5" y2="460.753" stroke="#4a4a4a" stroke-width="0.7" />
<line x1="433.9" y1="472.002" x2="437.5" y2="472.002" stroke="#4a4a4a" stroke-width="0.7" />
<line x1="448" y1="467.181" x2="448" y2="478.43" stroke="#4a4a4a" stroke-width="0.7" />
<line x1="446.2" y1="467.181" x2="449.8" y2="467.181" stroke="#4a4a4a" stroke-width="0.7" />
<line x1="446.2" y1="478.43" x2="449.8" y2="478.43" stroke="#4a4a4a" stroke-width="0.7" />
<line x1="460.3" y1="455.129" x2="460.3" y2="469.591" stroke="#4a4a4a" stroke-width="0.7" />
<line x1="458.5" y1="455.129" x2="462.1" y2="455.129" stroke="#4a4a4a" stroke-width="0.7" />
<line x1="458.5" y1="469.591" x2="462.1" y2="469.591" stroke="#4a4a4a" stroke-width="0.7" />
<line x1="472.6" y1="461.557" x2="472.6" y2="474.413" stroke="#4a4a4a" stroke-width="0.7" />
<line x1="470.8" y1="461.557" x2="474.4" y2="461.557" stroke="#4a4a4a" stroke-width="0.7" />
<line x1="470.8" y1="474.413" x2="474.4" y2="474.413" stroke="#4a4a4a" stroke-width="0.7" />
<line x1="484.9" y1="458.342" x2="484.9" y2="474.413" stroke="#4a4a4a" stroke-width="0.7" />
<line x1="483.1" y1="458.342" x2="486.7" y2="458.342" stroke="#4a4a4a" stroke-width="0.7" />
<line x1="483.1" y1="474.413" x2="486.7" y2="474.413" stroke="#4a4a4a" stroke-width="0.7" />
<line x1="497.2" y1="456.735" x2="497.2" y2="472.805" stroke="#4a4a4a" stroke-width="0.7" />
<line x1="495.4" y1="456.735" x2="499" y2="456.735" stroke="#4a4a4a" stroke-width="0.7" />
<line x1="495.4" y1="472.805" x2="499" y2="472.805" stroke="#4a4a4a" stroke-width="0.7" />
<line x1="382.3" y1="475.216" x2="382.3" y2="480.037" stroke="#4a4a4a" stroke-width="0.7" />
<line x1="380.5" y1="475.216" x2="384.1" y2="475.216" stroke="#4a4a4a" stroke-width="0.7" />
<line x1="380.5" y1="480.037" x2="384.1" y2="480.037" stroke="#4a4a4a" stroke-width="0.7" />
<line x1="398.8" y1="474.413" x2="398.8" y2="480.841" stroke="#4a4a4a" stroke-width="0.7" />
<line x1="397" y1="474.413" x2="400.6" y2="474.413" stroke="#4a4a4a" stroke-width="0.7" />
<line x1="397" y1="480.841" x2="400.6" y2="480.841" stroke="#4a4a4a" stroke-width="0.7" />
<line x1="411.1" y1="455.129" x2="411.1" y2="467.985" stroke="#4a4a4a" stroke-width="0.7" />
<line x1="409.3" y1="455.129" x2="412.9" y2="455.129" stroke="#4a4a4a" stroke-width="0.7" />
<line x1="409.3" y1="467.985" x2="412.9" y2="467.985" stroke="#4a4a4a" stroke-width="0.7" />
<line x1="423.4" y1="456.736" x2="423.4" y2="467.985" stroke="#4a4a4a" stroke-width="0.7" />
<line x1="421.6" y1="456.736" x2="425.2" y2="456.736" stroke="#4a4a4a" stroke-width="0.7" />
<line x1="421.6" y1="467.985" x2="425.2" y2="467.985" stroke="#4a4a4a" stroke-width="0.7" />
<line x1="435.7" y1="442.272" x2="435.7" y2="458.343" stroke="#4a4a4a" stroke-width="0.7" />
<line x1="433.9" y1="442.272" x2="437.5" y2="442.272" stroke="#4a4a4a" stroke-width="0.7" />
<line x1="433.9" y1="458.343" x2="437.5" y2="458.343" stroke="#4a4a4a" stroke-width="0.7" />
<line x1="448" y1="444.683" x2="448" y2="459.146" stroke="#4a4a4a" stroke-width="0.7" />
<line x1="446.2" y1="444.683" x2="449.8" y2="444.683" stroke="#4a4a4a" stroke-width="0.7" />
<line x1="446.2" y1="459.146" x2="449.8" y2="459.146" stroke="#4a4a4a" stroke-width="0.7" />
<line x1="460.3" y1="438.576" x2="460.3" y2="454.646" stroke="#4a4a4a" stroke-width="0.7" />
<line x1="458.5" y1="438.576" x2="462.1" y2="438.576" stroke="#4a4a4a" stroke-width="0.7" />
<line x1="458.5" y1="454.646" x2="462.1" y2="454.646" stroke="#4a4a4a" stroke-width="0.7" />
<line x1="472.6" y1="436.969" x2="472.6" y2="456.253" stroke="#4a4a4a" stroke-width="0.7" />
<line x1="470.8" y1="436.969" x2="474.4" y2="436.969" stroke="#4a4a4a" stroke-width="0.7" />
<line x1="470.8" y1="456.253" x2="474.4" y2="456.253" stroke="#4a4a4a" stroke-width="0.7" />
<line x1="484.9" y1="433.113" x2="484.9" y2="447.576" stroke="#4a4a4a" stroke-width="0.7" />
<line x1="483.1" y1="433.113" x2="486.7" y2="433.113" stroke="#4a4a4a" stroke-width="0.7" />
<line x1="483.1" y1="447.576" x2="486.7" y2="447.576" stroke="#4a4a4a" stroke-width="0.7" />
<line x1="497.2" y1="428.613" x2="497.2" y2="447.897" stroke="#4a4a4a" stroke-width="0.7" />
<line x1="495.4" y1="428.613" x2="499" y2="428.613" stroke="#4a4a4a" stroke-width="0.7" />
<line x1="495.4" y1="447.897" x2="499" y2="447.897" stroke="#4a4a4a" stroke-width="0.7" />
<line x1="382.3" y1="473.609" x2="382.3" y2="480.037" stroke="#4a4a4a" stroke-width="0.7" />
<line x1="380.5" y1="473.609" x2="384.1" y2="473.609" stroke="#4a4a4a" stroke-width="0.7" />
<line x1="380.5" y1="480.037" x2="384.1" y2="480.037" stroke="#4a4a4a" stroke-width="0.7" />
<line x1="398.8" y1="473.127" x2="398.8" y2="481.162" stroke="#4a4a4a" stroke-width="0.7" />
<line x1="397" y1="473.127" x2="400.6" y2="473.127" stroke="#4a4a4a" stroke-width="0.7" />
<line x1="397" y1="481.162" x2="400.6" y2="481.162" stroke="#4a4a4a" stroke-width="0.7" />
<line x1="411.1" y1="452.718" x2="411.1" y2="468.788" stroke="#4a4a4a" stroke-width="0.7" />
<line x1="409.3" y1="452.718" x2="412.9" y2="452.718" stroke="#4a4a4a" stroke-width="0.7" />
<line x1="409.3" y1="468.788" x2="412.9" y2="468.788" stroke="#4a4a4a" stroke-width="0.7" />
<line x1="423.4" y1="442.273" x2="423.4" y2="463.163" stroke="#4a4a4a" stroke-width="0.7" />
<line x1="421.6" y1="442.273" x2="425.2" y2="442.273" stroke="#4a4a4a" stroke-width="0.7" />
<line x1="421.6" y1="463.163" x2="425.2" y2="463.163" stroke="#4a4a4a" stroke-width="0.7" />
<line x1="435.7" y1="438.255" x2="435.7" y2="457.539" stroke="#4a4a4a" stroke-width="0.7" />
<line x1="433.9" y1="438.255" x2="437.5" y2="438.255" stroke="#4a4a4a" stroke-width="0.7" />
<line x1="433.9" y1="457.539" x2="437.5" y2="457.539" stroke="#4a4a4a" stroke-width="0.7" />
<line x1="448" y1="432.63" x2="448" y2="450.308" stroke="#4a4a4a" stroke-width="0.7" />
<line x1="446.2" y1="432.63" x2="449.8" y2="432.63" stroke="#4a4a4a" stroke-width="0.7" />
<line x1="446.2" y1="450.308" x2="449.8" y2="450.308" stroke="#4a4a4a" stroke-width="0.7" />
<line x1="460.3" y1="404.508" x2="460.3" y2="431.827" stroke="#4a4a4a" stroke-width="0.7" />
<line x1="458.5" y1="404.508" x2="462.1" y2="404.508" stroke="#4a4a4a" stroke-width="0.7" />
<line x1="458.5" y1="431.827" x2="462.1" y2="431.827" stroke="#4a4a4a" stroke-width="0.7" />
<line x1="472.6" y1="402.097" x2="472.6" y2="426.202" stroke="#4a4a4a" stroke-width="0.7" />
<line x1="470.8" y1="402.097" x2="474.4" y2="402.097" stroke="#4a4a4a" stroke-width="0.7" />
<line x1="470.8" y1="426.202" x2="474.4" y2="426.202" stroke="#4a4a4a" stroke-width="0.7" />
<line x1="484.9" y1="386.831" x2="484.9" y2="417.364" stroke="#4a4a4a" stroke-width="0.7" />
<line x1="483.1" y1="386.831" x2="486.7" y2="386.831" stroke="#4a4a4a" stroke-width="0.7" />
<line x1="483.1" y1="417.364" x2="486.7" y2="417.364" stroke="#4a4a4a" stroke-width="0.7" />
<line x1="497.2" y1="383.617" x2="497.2" y2="406.115" stroke="#4a4a4a" stroke-width="0.7" />
<line x1="495.4" y1="383.617" x2="499" y2="383.617" stroke="#4a4a4a" stroke-width="0.7" />
<line x1="495.4" y1="406.115" x2="499" y2="406.115" stroke="#4a4a4a" stroke-width="0.7" />
<polyline points="382.3,477.627 398.8,478.43 411.1,473.93 423.4,472.002 435.7,466.377 448,472.805 460.3,462.36 472.6,467.985 484.9,466.377 497.2,464.77" fill="none" stroke="#2230c0" stroke-width="0.7" />
<path d="M382.3 476.026 l1.6 1.6 l-1.6 1.6 l-1.6 -1.6z" fill="#2230c0"/>
<path d="M398.8 476.83 l1.6 1.6 l-1.6 1.6 l-1.6 -1.6z" fill="#2230c0"/>
<path d="M411.1 472.33 l1.6 1.6 l-1.6 1.6 l-1.6 -1.6z" fill="#2230c0"/>
<path d="M423.4 470.402 l1.6 1.6 l-1.6 1.6 l-1.6 -1.6z" fill="#2230c0"/>
<path d="M435.7 464.777 l1.6 1.6 l-1.6 1.6 l-1.6 -1.6z" fill="#2230c0"/>
<path d="M448 471.205 l1.6 1.6 l-1.6 1.6 l-1.6 -1.6z" fill="#2230c0"/>
<path d="M460.3 460.76 l1.6 1.6 l-1.6 1.6 l-1.6 -1.6z" fill="#2230c0"/>
<path d="M472.6 466.385 l1.6 1.6 l-1.6 1.6 l-1.6 -1.6z" fill="#2230c0"/>
<path d="M484.9 464.777 l1.6 1.6 l-1.6 1.6 l-1.6 -1.6z" fill="#2230c0"/>
<path d="M497.2 463.17 l1.6 1.6 l-1.6 1.6 l-1.6 -1.6z" fill="#2230c0"/>
<polyline points="382.3,477.627 398.8,477.627 411.1,461.557 423.4,462.36 435.7,450.308 448,451.914 460.3,446.611 472.6,446.611 484.9,440.344 497.2,438.255" fill="none" stroke="#d2553f" stroke-width="0.7" />
<rect x="380.8" y="476.127" width="3" height="3" fill="#8c2a22" />
<rect x="397.3" y="476.127" width="3" height="3" fill="#8c2a22" />
<rect x="409.6" y="460.057" width="3" height="3" fill="#8c2a22" />
<rect x="421.9" y="460.86" width="3" height="3" fill="#8c2a22" />
<rect x="434.2" y="448.808" width="3" height="3" fill="#8c2a22" />
<rect x="446.5" y="450.414" width="3" height="3" fill="#8c2a22" />
<rect x="458.8" y="445.111" width="3" height="3" fill="#8c2a22" />
<rect x="471.1" y="445.111" width="3" height="3" fill="#8c2a22" />
<rect x="483.4" y="438.844" width="3" height="3" fill="#8c2a22" />
<rect x="495.7" y="436.755" width="3" height="3" fill="#8c2a22" />
<polyline points="382.3,476.823 398.8,477.144 411.1,460.753 423.4,452.718 435.7,447.897 448,441.469 460.3,418.168 472.6,414.15 484.9,402.097 497.2,394.866" fill="none" stroke="#e8303a" stroke-width="0.7" />
<path d="M382.3 475.023 l1.7 3 h-3.4z" fill="#e8303a"/>
<path d="M398.8 475.344 l1.7 3 h-3.4z" fill="#e8303a"/>
<path d="M411.1 458.953 l1.7 3 h-3.4z" fill="#e8303a"/>
<path d="M423.4 450.918 l1.7 3 h-3.4z" fill="#e8303a"/>
<path d="M435.7 446.097 l1.7 3 h-3.4z" fill="#e8303a"/>
<path d="M448 439.669 l1.7 3 h-3.4z" fill="#e8303a"/>
<path d="M460.3 416.368 l1.7 3 h-3.4z" fill="#e8303a"/>
<path d="M472.6 412.35 l1.7 3 h-3.4z" fill="#e8303a"/>
<path d="M484.9 400.297 l1.7 3 h-3.4z" fill="#e8303a"/>
<path d="M497.2 393.066 l1.7 3 h-3.4z" fill="#e8303a"/>
<line x1="389" y1="389.5" x2="401.5" y2="389.5" stroke="#2230c0" stroke-width="0.8" />
<path d="M395.5 387.9 l1.6 1.6 l-1.6 1.6 l-1.6 -1.6z" fill="#2230c0"/>
<text x="403" y="391.8" font-size="6.5" text-anchor="start" font-weight="normal" font-style="normal" fill="#222" stroke="#222" stroke-width="0.4">Control</text>
<line x1="389" y1="399.5" x2="401.5" y2="399.5" stroke="#c0504d" stroke-width="0.8" />
<rect x="394" y="398" width="3" height="3" fill="#8c2a22" />
<text x="403" y="401.8" font-size="6.5" text-anchor="start" font-weight="normal" font-style="normal" fill="#222" stroke="#222" stroke-width="0.4">AR-WT</text>
<line x1="389" y1="409.5" x2="401.5" y2="409.5" stroke="#e8303a" stroke-width="0.8" />
<path d="M395.5 407.7 l1.7 3 h-3.4z" fill="#e8303a"/>
<text x="403" y="411.8" font-size="6.5" text-anchor="start" font-weight="normal" font-style="normal" fill="#222" stroke="#222" stroke-width="0.4">AR-S298A/S302A</text>
<text x="411" y="437" font-size="8.6" text-anchor="middle" font-weight="normal" font-style="normal" fill="#111"  stroke="#111" stroke-width="0.3">TNFα treat</text>
<line x1="411" y1="441" x2="411" y2="449" stroke="#111" stroke-width="0.9" />
<path d="M408.8 447.5 L411 452 L413.2 447.5 L411 448.8Z" stroke="#111" stroke-width="0.3" fill="#111" />
<path d="M500.2 394.8 H503.9 V439.3 H500.2" stroke="#333" stroke-width="0.8" fill="none" />
<path d="M508.2 394.8 H512.6 V467.1 H508.2" stroke="#333" stroke-width="0.8" fill="none" />
<text x="501.115" y="421.6" font-size="10.5" text-anchor="middle" font-weight="bold" fill="#111" transform="rotate(90 501.115 421.6)">**</text>
<text x="510.215" y="436.8" font-size="10.5" text-anchor="middle" font-weight="bold" fill="#111" transform="rotate(90 510.215 436.8)">**</text>
<line x1="79.5" y1="528.8" x2="79.5" y2="620.5" stroke="#111" stroke-width="1" />
<line x1="79" y1="620" x2="150" y2="620" stroke="#111" stroke-width="1.1" />
<line x1="75.5" y1="620" x2="79.5" y2="620" stroke="#111" stroke-width="1" />
<text x="73.4" y="624.8" font-size="10.8" text-anchor="end" font-weight="normal" font-style="normal" fill="#111"  stroke="#111" stroke-width="0.3">0</text>
<line x1="75.5" y1="589.75" x2="79.5" y2="589.75" stroke="#111" stroke-width="1" />
<text x="73.4" y="594.55" font-size="10.8" text-anchor="end" font-weight="normal" font-style="normal" fill="#111"  stroke="#111" stroke-width="0.3">0.2</text>
<line x1="75.5" y1="559.5" x2="79.5" y2="559.5" stroke="#111" stroke-width="1" />
<text x="73.4" y="564.3" font-size="10.8" text-anchor="end" font-weight="normal" font-style="normal" fill="#111"  stroke="#111" stroke-width="0.3">0.4</text>
<line x1="75.5" y1="529.25" x2="79.5" y2="529.25" stroke="#111" stroke-width="1" />
<text x="73.4" y="534.05" font-size="10.8" text-anchor="end" font-weight="normal" font-style="normal" fill="#111"  stroke="#111" stroke-width="0.3">0.6</text>
<text x="50.6" y="577" font-size="10.4" text-anchor="middle" font-weight="normal" font-style="normal" fill="#111" transform="rotate(-90 50.6 577)"  stroke="#111" stroke-width="0.3">Tumor weight (g)</text>
<rect x="86.8" y="596.556" width="14.2" height="23.4438" fill="#4c5fb8" />
<line x1="93.9" y1="592.019" x2="93.9" y2="601.094" stroke="#333" stroke-width="0.9" />
<line x1="90.4" y1="592.019" x2="97.4" y2="592.019" stroke="#333" stroke-width="0.9" />
<line x1="90.4" y1="601.094" x2="97.4" y2="601.094" stroke="#333" stroke-width="0.9" />
<line x1="93.9" y1="620" x2="93.9" y2="623.5" stroke="#111" stroke-width="1" />
<text font-size="8.4" text-anchor="end" fill="#111" stroke="#111" stroke-width="0.3" transform="translate(99.7 631.5) rotate(-50)"><tspan x="0" y="0">Control</tspan></text>
<rect x="108.25" y="585.212" width="14.75" height="34.7875" fill="#cf4a4d" />
<line x1="115.625" y1="582.188" x2="115.625" y2="588.237" stroke="#333" stroke-width="0.9" />
<line x1="112.125" y1="582.188" x2="119.125" y2="582.188" stroke="#333" stroke-width="0.9" />
<line x1="112.125" y1="588.237" x2="119.125" y2="588.237" stroke="#333" stroke-width="0.9" />
<line x1="115.625" y1="620" x2="115.625" y2="623.5" stroke="#111" stroke-width="1" />
<text font-size="8.4" text-anchor="end" fill="#111" stroke="#111" stroke-width="0.3" transform="translate(121.425 631.5) rotate(-50)"><tspan x="0" y="0">AR-WT</tspan></text>
<rect x="130" y="553.753" width="14.5" height="66.2475" fill="#8a8a8a" />
<line x1="137.25" y1="543.921" x2="137.25" y2="563.584" stroke="#333" stroke-width="0.9" />
<line x1="133.75" y1="543.921" x2="140.75" y2="543.921" stroke="#333" stroke-width="0.9" />
<line x1="133.75" y1="563.584" x2="140.75" y2="563.584" stroke="#333" stroke-width="0.9" />
<line x1="137.25" y1="620" x2="137.25" y2="623.5" stroke="#111" stroke-width="1" />
<text font-size="8.4" text-anchor="end" fill="#111" stroke="#111" stroke-width="0.3" transform="translate(143.05 631.5) rotate(-50)"><tspan x="0" y="0">AR-S298A/</tspan><tspan x="0" y="8.6">S302A</tspan></text>
<line x1="93.75" y1="537.5" x2="93.75" y2="591" stroke="#555" stroke-width="0.9" />
<path d="M93.75 577 H116.25 V580.5" stroke="#555" stroke-width="0.9" fill="none" />
<text x="105.5" y="579.02" font-size="12" text-anchor="middle" font-weight="bold" font-style="normal" fill="#111" >*</text>
<path d="M93.75 537.5 H137.5 V542.5" stroke="#555" stroke-width="0.9" fill="none" />
<text x="115.5" y="539.02" font-size="12" text-anchor="middle" font-weight="bold" font-style="normal" fill="#111" >**</text>
<text x="55.2" y="681.5" font-size="10.5" text-anchor="end" font-weight="normal" font-style="normal" fill="#111"  stroke="#111" stroke-width="0.3">Control</text>
<text x="55.2" y="711.2" font-size="10.5" text-anchor="end" font-weight="normal" font-style="normal" fill="#111"  stroke="#111" stroke-width="0.3">AR-WT</text>
<text x="55.6" y="731.7" font-size="10.5" text-anchor="end" font-weight="normal" font-style="normal" fill="#111"  stroke="#111" stroke-width="0.3">AR-S298A/</text>
<text x="45.6" y="744.2" font-size="10.5" text-anchor="end" font-weight="normal" font-style="normal" fill="#111"  stroke="#111" stroke-width="0.3">S302A</text>
<defs><filter id="bl" x="-20%" y="-20%" width="140%" height="140%"><feGaussianBlur stdDeviation="0.45"/></filter><linearGradient id="bg" x1="0" y1="0" x2="0" y2="1"><stop offset="0" stop-color="#ecebea"/><stop offset="0.5" stop-color="#e3e1df"/><stop offset="1" stop-color="#dddbd9"/></linearGradient></defs>
<rect x="58.8" y="665.2" width="117.4" height="25.3" fill="url(#bg)"/>
<rect x="58.8" y="684.9" width="117.4" height="5.6" fill="#e2e5ec" />
<rect x="58.8" y="684.9" width="117.4" height="1.3" fill="#b3bccd" />
<rect x="58.8" y="686.2" width="117.4" height="1.5" fill="#ccd3df" />
<path d="M60.60 688.5 v2.4M68.70 688.5 v2.4M76.80 688.5 v2.4M84.90 688.5 v2.4M93.00 688.5 v2.4M101.10 688.5 v2.4M109.20 688.5 v2.4M117.30 688.5 v2.4M125.40 688.5 v2.4M133.50 688.5 v2.4M141.60 688.5 v2.4M149.70 688.5 v2.4M157.80 688.5 v2.4M165.90 688.5 v2.4M174.00 688.5 v2.4" stroke="#4a4f5c" stroke-width="1.3" fill="none" />
<path d="M64.65 689.1 v1.6M72.75 689.1 v1.6M80.85 689.1 v1.6M88.95 689.1 v1.6M97.05 689.1 v1.6M105.15 689.1 v1.6M113.25 689.1 v1.6M121.35 689.1 v1.6M129.45 689.1 v1.6M137.55 689.1 v1.6M145.65 689.1 v1.6M153.75 689.1 v1.6M161.85 689.1 v1.6M169.95 689.1 v1.6" stroke="#8a90a0" stroke-width="0.7" fill="none" />
<g filter="url(#bl)">
<ellipse cx="68.1" cy="680.2" rx="5.7" ry="3.2" fill="#e3ae98" transform="rotate(22 68.1 680.2)"/>
<ellipse cx="67.188" cy="679.304" rx="3.45455" ry="1.6" fill="#fff" opacity="0.22" transform="rotate(22 68.1 680.2)"/>
<ellipse cx="68.67" cy="682.888" rx="4.75" ry="0.914286" fill="#8a5a4a" opacity="0.18"/>
<ellipse cx="83.1" cy="680.4" rx="3.2" ry="3.2" fill="#d9a688" transform="rotate(10 83.1 680.4)"/>
<ellipse cx="82.588" cy="679.504" rx="1.93939" ry="1.6" fill="#fff" opacity="0.22" transform="rotate(10 83.1 680.4)"/>
<ellipse cx="83.42" cy="683.088" rx="2.66667" ry="0.914286" fill="#8a5a4a" opacity="0.18"/>
<ellipse cx="99.2" cy="679.9" rx="3.2" ry="3.1" fill="#dcc2a4" transform="rotate(0 99.2 679.9)"/>
<ellipse cx="98.688" cy="679.032" rx="1.93939" ry="1.55" fill="#fff" opacity="0.22" transform="rotate(0 99.2 679.9)"/>
<ellipse cx="99.52" cy="682.504" rx="2.66667" ry="0.885714" fill="#8a5a4a" opacity="0.18"/>
<ellipse cx="114" cy="680.3" rx="2.6" ry="2.7" fill="#d9bca6" transform="rotate(0 114 680.3)"/>
<ellipse cx="113.584" cy="679.544" rx="1.57576" ry="1.35" fill="#fff" opacity="0.22" transform="rotate(0 114 680.3)"/>
<ellipse cx="114.26" cy="682.568" rx="2.16667" ry="0.771429" fill="#8a5a4a" opacity="0.18"/>
<ellipse cx="131.2" cy="680.05" rx="3.5" ry="3.05" fill="#dcb69c" transform="rotate(0 131.2 680.05)"/>
<ellipse cx="130.64" cy="679.196" rx="2.12121" ry="1.525" fill="#fff" opacity="0.22" transform="rotate(0 131.2 680.05)"/>
<ellipse cx="131.55" cy="682.612" rx="2.91667" ry="0.871429" fill="#8a5a4a" opacity="0.18"/>
<ellipse cx="144.5" cy="680.1" rx="2.5" ry="1.5" fill="#c9a184" transform="rotate(-8 144.5 680.1)"/>
<ellipse cx="144.1" cy="679.68" rx="1.51515" ry="0.75" fill="#fff" opacity="0.22" transform="rotate(-8 144.5 680.1)"/>
<ellipse cx="144.75" cy="681.36" rx="2.08333" ry="0.428571" fill="#8a5a4a" opacity="0.18"/>
<ellipse cx="160.1" cy="680.75" rx="1.6" ry="0.85" fill="#cdb090" transform="rotate(0 160.1 680.75)"/>
<ellipse cx="159.844" cy="680.512" rx="0.969697" ry="0.425" fill="#fff" opacity="0.22" transform="rotate(0 160.1 680.75)"/>
<ellipse cx="160.26" cy="681.464" rx="1.33333" ry="0.242857" fill="#8a5a4a" opacity="0.18"/>
</g>
<rect x="58.8" y="693" width="117.4" height="26.2" fill="url(#bg)"/>
<rect x="58.8" y="712.6" width="117.4" height="6.6" fill="#e2e5ec" />
<rect x="58.8" y="712.6" width="117.4" height="1.3" fill="#b3bccd" />
<rect x="58.8" y="713.9" width="117.4" height="1.5" fill="#ccd3df" />
<path d="M60.60 716.2 v2.4M68.70 716.2 v2.4M76.80 716.2 v2.4M84.90 716.2 v2.4M93.00 716.2 v2.4M101.10 716.2 v2.4M109.20 716.2 v2.4M117.30 716.2 v2.4M125.40 716.2 v2.4M133.50 716.2 v2.4M141.60 716.2 v2.4M149.70 716.2 v2.4M157.80 716.2 v2.4M165.90 716.2 v2.4M174.00 716.2 v2.4" stroke="#4a4f5c" stroke-width="1.3" fill="none" />
<path d="M64.65 716.8 v1.6M72.75 716.8 v1.6M80.85 716.8 v1.6M88.95 716.8 v1.6M97.05 716.8 v1.6M105.15 716.8 v1.6M113.25 716.8 v1.6M121.35 716.8 v1.6M129.45 716.8 v1.6M137.55 716.8 v1.6M145.65 716.8 v1.6M153.75 716.8 v1.6M161.85 716.8 v1.6M169.95 716.8 v1.6" stroke="#8a90a0" stroke-width="0.7" fill="none" />
<g filter="url(#bl)">
<ellipse cx="67.7" cy="708.45" rx="4.5" ry="3.45" fill="#dfa48e" transform="rotate(8 67.7 708.45)"/>
<ellipse cx="66.98" cy="707.484" rx="2.72727" ry="1.725" fill="#fff" opacity="0.22" transform="rotate(8 67.7 708.45)"/>
<ellipse cx="68.15" cy="711.348" rx="3.75" ry="0.985714" fill="#8a5a4a" opacity="0.18"/>
<ellipse cx="84" cy="708.25" rx="4" ry="4.25" fill="#c65f60" transform="rotate(-10 84 708.25)"/>
<ellipse cx="83.36" cy="707.06" rx="2.42424" ry="2.125" fill="#fff" opacity="0.22" transform="rotate(-10 84 708.25)"/>
<ellipse cx="84.4" cy="711.82" rx="3.33333" ry="1.21429" fill="#8a5a4a" opacity="0.18"/>
<ellipse cx="99.4" cy="708.75" rx="3.4" ry="3.05" fill="#e0a088" transform="rotate(0 99.4 708.75)"/>
<ellipse cx="98.856" cy="707.896" rx="2.06061" ry="1.525" fill="#fff" opacity="0.22" transform="rotate(0 99.4 708.75)"/>
<ellipse cx="99.74" cy="711.312" rx="2.83333" ry="0.871429" fill="#8a5a4a" opacity="0.18"/>
<ellipse cx="115.8" cy="708.75" rx="3.8" ry="3.75" fill="#d8908a" transform="rotate(0 115.8 708.75)"/>
<ellipse cx="115.192" cy="707.7" rx="2.30303" ry="1.875" fill="#fff" opacity="0.22" transform="rotate(0 115.8 708.75)"/>
<ellipse cx="116.18" cy="711.9" rx="3.16667" ry="1.07143" fill="#8a5a4a" opacity="0.18"/>
<ellipse cx="131.2" cy="708.65" rx="3.7" ry="3.15" fill="#dca894" transform="rotate(0 131.2 708.65)"/>
<ellipse cx="130.608" cy="707.768" rx="2.24242" ry="1.575" fill="#fff" opacity="0.22" transform="rotate(0 131.2 708.65)"/>
<ellipse cx="131.57" cy="711.296" rx="3.08333" ry="0.9" fill="#8a5a4a" opacity="0.18"/>
<ellipse cx="146" cy="708.7" rx="3.7" ry="3.2" fill="#dfb8a0" transform="rotate(0 146 708.7)"/>
<ellipse cx="145.408" cy="707.804" rx="2.24242" ry="1.6" fill="#fff" opacity="0.22" transform="rotate(0 146 708.7)"/>
<ellipse cx="146.37" cy="711.388" rx="3.08333" ry="0.914286" fill="#8a5a4a" opacity="0.18"/>
<ellipse cx="160.8" cy="709.15" rx="3" ry="3.35" fill="#d4a090" transform="rotate(0 160.8 709.15)"/>
<ellipse cx="160.32" cy="708.212" rx="1.81818" ry="1.675" fill="#fff" opacity="0.22" transform="rotate(0 160.8 709.15)"/>
<ellipse cx="161.1" cy="711.964" rx="2.5" ry="0.957143" fill="#8a5a4a" opacity="0.18"/>
</g>
<rect x="58.8" y="720.4" width="117.4" height="26.6" fill="url(#bg)"/>
<rect x="58.8" y="741.4" width="117.4" height="5.6" fill="#e2e5ec" />
<rect x="58.8" y="741.4" width="117.4" height="1.3" fill="#b3bccd" />
<rect x="58.8" y="742.7" width="117.4" height="1.5" fill="#ccd3df" />
<path d="M60.60 745 v2.4M68.70 745 v2.4M76.80 745 v2.4M84.90 745 v2.4M93.00 745 v2.4M101.10 745 v2.4M109.20 745 v2.4M117.30 745 v2.4M125.40 745 v2.4M133.50 745 v2.4M141.60 745 v2.4M149.70 745 v2.4M157.80 745 v2.4M165.90 745 v2.4M174.00 745 v2.4" stroke="#4a4f5c" stroke-width="1.3" fill="none" />
<path d="M64.65 745.6 v1.6M72.75 745.6 v1.6M80.85 745.6 v1.6M88.95 745.6 v1.6M97.05 745.6 v1.6M105.15 745.6 v1.6M113.25 745.6 v1.6M121.35 745.6 v1.6M129.45 745.6 v1.6M137.55 745.6 v1.6M145.65 745.6 v1.6M153.75 745.6 v1.6M161.85 745.6 v1.6M169.95 745.6 v1.6" stroke="#8a90a0" stroke-width="0.7" fill="none" />
<g filter="url(#bl)">
<ellipse cx="68.8" cy="735.45" rx="6.5" ry="4.85" fill="#e3b894" transform="rotate(0 68.8 735.45)"/>
<ellipse cx="67.76" cy="734.092" rx="3.93939" ry="2.425" fill="#fff" opacity="0.22" transform="rotate(0 68.8 735.45)"/>
<ellipse cx="69.45" cy="739.524" rx="5.41667" ry="1.38571" fill="#8a5a4a" opacity="0.18"/>
<ellipse cx="85.6" cy="735.8" rx="5.4" ry="4.5" fill="#e0aa88" transform="rotate(0 85.6 735.8)"/>
<ellipse cx="84.736" cy="734.54" rx="3.27273" ry="2.25" fill="#fff" opacity="0.22" transform="rotate(0 85.6 735.8)"/>
<ellipse cx="86.14" cy="739.58" rx="4.5" ry="1.28571" fill="#8a5a4a" opacity="0.18"/>
<ellipse cx="100.7" cy="735.7" rx="4.8" ry="3.9" fill="#dda08a" transform="rotate(0 100.7 735.7)"/>
<ellipse cx="99.932" cy="734.608" rx="2.90909" ry="1.95" fill="#fff" opacity="0.22" transform="rotate(0 100.7 735.7)"/>
<ellipse cx="101.18" cy="738.976" rx="4" ry="1.11429" fill="#8a5a4a" opacity="0.18"/>
<ellipse cx="116.9" cy="735.2" rx="5.3" ry="3.9" fill="#c8465c" transform="rotate(-6 116.9 735.2)"/>
<ellipse cx="116.052" cy="734.108" rx="3.21212" ry="1.95" fill="#fff" opacity="0.22" transform="rotate(-6 116.9 735.2)"/>
<ellipse cx="117.43" cy="738.476" rx="4.41667" ry="1.11429" fill="#8a5a4a" opacity="0.18"/>
<ellipse cx="132.5" cy="736.65" rx="5.5" ry="3.65" fill="#e2b896" transform="rotate(0 132.5 736.65)"/>
<ellipse cx="131.62" cy="735.628" rx="3.33333" ry="1.825" fill="#fff" opacity="0.22" transform="rotate(0 132.5 736.65)"/>
<ellipse cx="133.05" cy="739.716" rx="4.58333" ry="1.04286" fill="#8a5a4a" opacity="0.18"/>
<ellipse cx="147.5" cy="737.05" rx="4.8" ry="3.25" fill="#e4bea0" transform="rotate(0 147.5 737.05)"/>
<ellipse cx="146.732" cy="736.14" rx="2.90909" ry="1.625" fill="#fff" opacity="0.22" transform="rotate(0 147.5 737.05)"/>
<ellipse cx="147.98" cy="739.78" rx="4" ry="0.928571" fill="#8a5a4a" opacity="0.18"/>
<ellipse cx="162" cy="736.65" rx="3.6" ry="3.65" fill="#dfa890" transform="rotate(0 162 736.65)"/>
<ellipse cx="161.424" cy="735.628" rx="2.18182" ry="1.825" fill="#fff" opacity="0.22" transform="rotate(0 162 736.65)"/>
<ellipse cx="162.36" cy="739.716" rx="3" ry="1.04286" fill="#8a5a4a" opacity="0.18"/>
</g>
<rect x="193" y="542" width="136.5" height="186.4" fill="#fbfcfe" stroke="#6f86b4" stroke-width="0.9"/>
<rect x="239.4" y="580.5" width="85.4" height="147.45" fill="#dddac5" />
<text x="275" y="549.8" font-size="5.9" text-anchor="middle" font-weight="bold" font-style="normal" fill="#1a1a1a" textLength="98.2" lengthAdjust="spacingAndGlyphs" stroke="#1a1a1a" stroke-width="0.22">Inflammatory cytokines (e.g. TNFα)</text>
<circle cx="260.2" cy="556.6" r="4.3" fill="#f3c8a0"/>
<circle cx="269" cy="556.6" r="4.3" fill="#f3c8a0"/>
<circle cx="264.6" cy="561.2" r="4.3" fill="#f3c8a0"/>
<line x1="263.4" y1="565.2" x2="263.4" y2="570.77" stroke="#111" stroke-width="1.1" />
<path d="M260.5 568.885 L263.4 572.8 L266.3 568.885 L263.4 570.625Z" stroke="#111" stroke-width="0.3" fill="#111" />
<path d="M257.6 588.7 C259 583.94 256.8 580.2 258 575.95 C258.6 572.55 260 571.4 261 572.3 L263.6 577.82 L266.2 572.3 C267.2 571.4 268.6 572.55 269.2 575.95 C270.4 580.2 268.2 583.94 269.6 588.7 L265.8 588.7 L265.2 585.3 L263.6 583.94 L262 585.3 L261.4 588.7Z" stroke="none" stroke-width="0" fill="#4a80c2" />
<path d="M261.7 573.5 L263.6 578.22 L265.5 573.5" stroke="#dfeaf6" stroke-width="0.9" fill="none" stroke-linejoin="round" opacity="0.9"/>
<text x="245.4" y="577.5" font-size="5.9" text-anchor="middle" font-weight="bold" font-style="normal" fill="#1a1a1a" textLength="13.6" lengthAdjust="spacingAndGlyphs" stroke="#1a1a1a" stroke-width="0.22">TNFR</text>
<ellipse cx="264.2" cy="594.5" rx="19.25" ry="4.8" fill="#e0771f"/>
<text x="264.4" y="596.6" font-size="5.9" text-anchor="middle" font-weight="bold" font-style="normal" fill="#fdeccb" textLength="17.5" lengthAdjust="spacingAndGlyphs" stroke="#fdeccb" stroke-width="0.22">TRADD</text>
<ellipse cx="253.1" cy="603.7" rx="8.15" ry="4.5" fill="#86abe2"/>
<text x="252.6" y="605.8" font-size="5.9" text-anchor="middle" font-weight="normal" font-style="normal" fill="#27518f" textLength="8.5" lengthAdjust="spacingAndGlyphs" stroke="#27518f" stroke-width="0.22">RIP</text>
<ellipse cx="272.4" cy="603.7" rx="12.15" ry="4.5" fill="#a6d4e8"/>
<text x="273.2" y="605.8" font-size="5.9" text-anchor="middle" font-weight="normal" font-style="normal" fill="#1f5f86" textLength="15.5" lengthAdjust="spacingAndGlyphs" stroke="#1f5f86" stroke-width="0.22">TRAF2</text>
<line x1="263.2" y1="609.2" x2="263.2" y2="614.17" stroke="#111" stroke-width="1.1" />
<path d="M260.3 612.285 L263.2 616.2 L266.1 612.285 L263.2 614.025Z" stroke="#111" stroke-width="0.3" fill="#111" />
<line x1="263.2" y1="616.6" x2="263.2" y2="622.17" stroke="#111" stroke-width="1.1" />
<path d="M260.3 620.285 L263.2 624.2 L266.1 620.285 L263.2 622.025Z" stroke="#111" stroke-width="0.3" fill="#111" />
<text x="268" y="632" font-size="5.6" text-anchor="middle" font-weight="bold" font-style="normal" fill="#1a1a1a" textLength="38.7" lengthAdjust="spacingAndGlyphs" stroke="#1a1a1a" stroke-width="0.22">MAP3K7 (TAK1)</text>
<line x1="263.4" y1="634.2" x2="263.4" y2="639.97" stroke="#111" stroke-width="1.1" />
<path d="M260.5 638.085 L263.4 642 L266.3 638.085 L263.4 639.825Z" stroke="#111" stroke-width="0.3" fill="#111" />
<ellipse cx="263.5" cy="648.6" rx="11.5" ry="5.4" fill="#d9a0ab"/>
<text x="263.8" y="650.9" font-size="6.4" text-anchor="middle" font-weight="bold" font-style="normal" fill="#5e2226" textLength="14" lengthAdjust="spacingAndGlyphs" stroke="#5e2226" stroke-width="0.22">IKKβ</text>
<text x="228.3" y="644.8" font-size="5.2" text-anchor="middle" font-weight="bold" font-style="normal" fill="#1a1a1a" textLength="15.7" lengthAdjust="spacingAndGlyphs" stroke="#1a1a1a" stroke-width="0.22">β-TRCP</text>
<text x="284.5" y="644.6" font-size="5.2" text-anchor="middle" font-weight="bold" font-style="normal" fill="#1a1a1a" textLength="16.4" lengthAdjust="spacingAndGlyphs" stroke="#1a1a1a" stroke-width="0.22">β-TRCP</text>
<path d="M251 647.8 H220.3 V656" stroke="#e25a6c" stroke-width="0.7" fill="none" />
<line x1="220.3" y1="655" x2="220.3" y2="657.2" stroke="#e25a6c" stroke-width="0.7" />
<path d="M218.6 655.4 L220.3 658.2 L222 655.4Z" stroke="#e25a6c" stroke-width="0.3" fill="#e25a6c" />
<text x="232.2" y="664.4" font-size="5.6" text-anchor="middle" font-weight="bold" font-style="normal" fill="#1a1a1a" textLength="8" lengthAdjust="spacingAndGlyphs" stroke="#1a1a1a" stroke-width="0.22">IκB</text>
<line x1="224.6" y1="662.4" x2="210.2" y2="662.4" stroke="#e25a6c" stroke-width="0.7" />
<path d="M211 660.7 L208.2 662.4 L211 664.1Z" stroke="#e25a6c" stroke-width="0.3" fill="#e25a6c" />
<ellipse cx="199.5" cy="657.1" rx="1" ry="1.9" fill="#111" transform="rotate(-30 199.5 657.1)"/>
<ellipse cx="196.9" cy="662.2" rx="1.3" ry="1.3" fill="#111" transform="rotate(0 196.9 662.2)"/>
<ellipse cx="203" cy="661.7" rx="1.3" ry="1.2" fill="#111" transform="rotate(0 203 661.7)"/>
<ellipse cx="200" cy="664.3" rx="1.3" ry="1.2" fill="#111" transform="rotate(0 200 664.3)"/>
<ellipse cx="200" cy="661.6" rx="0.5" ry="0.5" fill="#111" transform="rotate(0 200 661.6)"/>
<path d="M203 669.6 L209 678.5" stroke="#e25a6c" stroke-width="0.7" fill="none" />
<path d="M206.6 678.2 L209.7 679.6 L209.9 676.2" stroke="#e25a6c" stroke-width="0.7" fill="none" />
<text x="220.2" y="682.4" font-size="5.6" text-anchor="middle" font-weight="bold" font-style="normal" fill="#1a1a1a" textLength="15" lengthAdjust="spacingAndGlyphs" stroke="#1a1a1a" stroke-width="0.22">NF-κB</text>
<line x1="228.2" y1="680.8" x2="247.2" y2="680.8" stroke="#e25a6c" stroke-width="0.7" />
<path d="M246.4 679.1 L249.2 680.8 L246.4 682.5Z" stroke="#e25a6c" stroke-width="0.3" fill="#e25a6c" />
<line x1="220" y1="685" x2="220" y2="695.5" stroke="#e25a6c" stroke-width="0.7" />
<path d="M218.3 693.7 L220 696.5 L221.7 693.7Z" stroke="#e25a6c" stroke-width="0.3" fill="#e25a6c" />
<rect x="204.1" y="697.7" width="33.4" height="6" rx="2.5" fill="#f3efb0" opacity="0.55"/>
<path d="M204.6 704.0 C205.6 696.7 207.5 696.4 208.2 700.7 S210.1 704.7 211.4 698.7" stroke="#d8d23a" stroke-width="1.5" fill="none" stroke-linecap="round"/>
<path d="M211.1 704.0 C212.1 696.7 214.0 696.4 214.6 700.7 S216.6 704.7 217.9 698.7" stroke="#9fc24a" stroke-width="1.5" fill="none" stroke-linecap="round"/>
<path d="M217.6 704.0 C218.5 696.7 220.5 696.4 221.1 700.7 S223.1 704.7 224.4 698.7" stroke="#e8e04a" stroke-width="1.5" fill="none" stroke-linecap="round"/>
<path d="M224.0 704.0 C225.0 696.7 227.0 696.4 227.6 700.7 S229.5 704.7 230.8 698.7" stroke="#d9a23a" stroke-width="1.5" fill="none" stroke-linecap="round"/>
<path d="M230.5 704.0 C231.5 696.7 233.4 696.4 234.1 700.7 S236.0 704.7 237.3 698.7" stroke="#b9c84a" stroke-width="1.5" fill="none" stroke-linecap="round"/>
<path d="M204.6 700.7 L204.6 703.2 L205.8 703.6 L206.9 702.3 L208.1 700.1 L209.2 698.2 L210.4 697.8 L211.5 699.1 L212.7 701.3 L213.9 703.2 L215.0 703.6 L216.2 702.3 L217.3 700.1 L218.5 698.2 L219.6 697.8 L220.8 699.1 L222.0 701.3 L223.1 703.2 L224.3 703.6 L225.4 702.3 L226.6 700.1 L227.7 698.2 L228.9 697.8 L230.1 699.1 L231.2 701.3 L232.4 703.2 L233.5 703.6 L234.7 702.3 L235.8 700.1 L237.0 698.2" stroke="#c8b040" stroke-width="0.7" fill="none" opacity="0.8"/>
<path d="M205.6 704.3 H236.0" stroke="#cfd6a0" stroke-width="0.5" fill="none" opacity="0.7"/>
<path d="M210 704.4 V710 H199.5" stroke="#e25a6c" stroke-width="0.7" fill="none" />
<line x1="201" y1="710" x2="199.7" y2="710" stroke="#e25a6c" stroke-width="0.7" />
<path d="M200.5 708.3 L197.7 710 L200.5 711.7Z" stroke="#e25a6c" stroke-width="0.3" fill="#e25a6c" />
<text x="204.8" y="717.7" font-size="5.6" text-anchor="middle" font-weight="bold" font-style="normal" fill="#1a1a1a" textLength="18" lengthAdjust="spacingAndGlyphs" stroke="#1a1a1a" stroke-width="0.22">Survival</text>
<text x="205.6" y="725.4" font-size="5.6" text-anchor="middle" font-weight="bold" font-style="normal" fill="#1a1a1a" textLength="13.3" lengthAdjust="spacingAndGlyphs" stroke="#1a1a1a" stroke-width="0.22">genes</text>
<line x1="218" y1="718.8" x2="241" y2="718.8" stroke="#e25a6c" stroke-width="0.7" />
<path d="M240.2 717.1 L243 718.8 L240.2 720.5Z" stroke="#e25a6c" stroke-width="0.3" fill="#e25a6c" />
<text x="257.4" y="717.6" font-size="6.4" text-anchor="middle" font-weight="bold" font-style="normal" fill="#1a1a1a" textLength="23.6" lengthAdjust="spacingAndGlyphs" stroke="#1a1a1a" stroke-width="0.22">Prostate</text>
<text x="257.8" y="725.6" font-size="6.4" text-anchor="middle" font-weight="bold" font-style="normal" fill="#1a1a1a" textLength="18" lengthAdjust="spacingAndGlyphs" stroke="#1a1a1a" stroke-width="0.22">cancer</text>
<ellipse cx="257" cy="675.8" rx="1.5" ry="2.9" fill="#0c0c0c" transform="rotate(-28 257 675.8)"/>
<ellipse cx="263.2" cy="681.7" rx="2.3" ry="1.1" fill="#0c0c0c" transform="rotate(-8 263.2 681.7)"/>
<ellipse cx="252.4" cy="682.3" rx="1" ry="1.3" fill="#0c0c0c" transform="rotate(0 252.4 682.3)"/>
<ellipse cx="256.6" cy="680.9" rx="0.6" ry="0.6" fill="#0c0c0c" transform="rotate(0 256.6 680.9)"/>
<ellipse cx="257.1" cy="685.7" rx="2.5" ry="1.6" fill="#0c0c0c" transform="rotate(0 257.1 685.7)"/>
<path d="M257 690.6 V709.6 M251 709.8 H263" stroke="#2eb35a" stroke-width="2.2" fill="none" />
<path d="M277.3 648 H284.6 V674.5" stroke="#2eb35a" stroke-width="2.1" fill="none" />
<path d="M280.9 671.2 L284.6 675.9 L288.3 671.2" stroke="#2eb35a" stroke-width="2" fill="none" stroke-linecap="round" stroke-linejoin="miter"/>
<path d="M295.8 681.5 H270.5" stroke="#2eb35a" stroke-width="2.1" fill="none" />
<path d="M274.6 677.7 L269 681.5 L274.6 685.3" stroke="#2eb35a" stroke-width="2" fill="none" stroke-linecap="round"/>
<ellipse cx="311.6" cy="680.8" rx="13.85" ry="9.25" fill="#f9d6b8" opacity="0.75"/>
<ellipse cx="311.6" cy="680.8" rx="12.25" ry="7.65" fill="#fac3a0"/>
<text x="311.6" y="684.904" font-size="11.4" text-anchor="middle" font-weight="bold" font-style="normal" fill="#e6261a" >AR</text>
<text x="261.5" y="736.5" font-size="5.9" text-anchor="middle" font-weight="bold" font-style="normal" fill="#35a866" textLength="127" lengthAdjust="spacingAndGlyphs" stroke="#35a866" stroke-width="0.22">Inhibition of AR signaling and PCa progression</text>
<text x="350.6" y="609.7" font-size="8.4" text-anchor="middle" font-weight="bold" font-style="normal" fill="#d6363f" textLength="30.4" lengthAdjust="spacingAndGlyphs" stroke="#d6363f" stroke-width="0.22">MAP3K7</text>
<text x="350.7" y="620" font-size="8.4" text-anchor="middle" font-weight="bold" font-style="normal" fill="#d6363f" textLength="29.4" lengthAdjust="spacingAndGlyphs" stroke="#d6363f" stroke-width="0.22">deletion</text>
<path d="M334 630 H360.3 V625.3 L370 635 L360.3 644.7 V639.6 H334Z" stroke="#ea6a1c" stroke-width="0.7" fill="#fcb415" />
<rect x="373.5" y="541.4" width="138.3" height="186.4" fill="#fbfcfe" stroke="#6f86b4" stroke-width="0.9"/>
<rect x="416.5" y="579.3" width="91" height="148.05" fill="#dddac5" />
<text x="444.2" y="548.6" font-size="5.9" text-anchor="middle" font-weight="bold" font-style="normal" fill="#1a1a1a" textLength="97.8" lengthAdjust="spacingAndGlyphs" stroke="#1a1a1a" stroke-width="0.22">Inflammatory cytokines (e.g. TNFα)</text>
<circle cx="438.9" cy="555.6" r="4.3" fill="#f3c8a0"/>
<circle cx="447.7" cy="555.6" r="4.3" fill="#f3c8a0"/>
<circle cx="443.3" cy="560.2" r="4.3" fill="#f3c8a0"/>
<line x1="442.3" y1="562.8" x2="442.3" y2="568.77" stroke="#111" stroke-width="1.1" />
<path d="M439.4 566.885 L442.3 570.8 L445.2 566.885 L442.3 568.625Z" stroke="#111" stroke-width="0.3" fill="#111" />
<path d="M436.7 587.6 C438.1 582.56 435.9 578.6 437.1 574.1 C437.7 570.5 439.1 569.3 440.1 570.2 L442.7 576.08 L445.3 570.2 C446.3 569.3 447.7 570.5 448.3 574.1 C449.5 578.6 447.3 582.56 448.7 587.6 L444.9 587.6 L444.3 584 L442.7 582.56 L441.1 584 L440.5 587.6Z" stroke="none" stroke-width="0" fill="#4a80c2" />
<path d="M440.8 571.4 L442.7 576.48 L444.6 571.4" stroke="#dfeaf6" stroke-width="0.9" fill="none" stroke-linejoin="round" opacity="0.9"/>
<text x="425.2" y="575" font-size="5.9" text-anchor="middle" font-weight="bold" font-style="normal" fill="#1a1a1a" textLength="14" lengthAdjust="spacingAndGlyphs" stroke="#1a1a1a" stroke-width="0.22">TNFR</text>
<ellipse cx="443.5" cy="592.2" rx="19.3" ry="4.7" fill="#e0771f"/>
<text x="443.8" y="594.3" font-size="5.9" text-anchor="middle" font-weight="bold" font-style="normal" fill="#fdeccb" textLength="17.5" lengthAdjust="spacingAndGlyphs" stroke="#fdeccb" stroke-width="0.22">TRADD</text>
<ellipse cx="432.3" cy="601.9" rx="8.15" ry="4.6" fill="#86abe2"/>
<text x="431.8" y="604" font-size="5.9" text-anchor="middle" font-weight="normal" font-style="normal" fill="#27518f" textLength="8.5" lengthAdjust="spacingAndGlyphs" stroke="#27518f" stroke-width="0.22">RIP</text>
<ellipse cx="452.2" cy="601.9" rx="12.4" ry="4.6" fill="#a6d4e8"/>
<text x="453" y="604" font-size="5.9" text-anchor="middle" font-weight="normal" font-style="normal" fill="#1f5f86" textLength="15.5" lengthAdjust="spacingAndGlyphs" stroke="#1f5f86" stroke-width="0.22">TRAF2</text>
<line x1="442.3" y1="608.4" x2="442.3" y2="613.77" stroke="#111" stroke-width="1.1" />
<path d="M439.4 611.885 L442.3 615.8 L445.2 611.885 L442.3 613.625Z" stroke="#111" stroke-width="0.3" fill="#111" />
<line x1="442.3" y1="616.2" x2="442.3" y2="622.47" stroke="#111" stroke-width="1.1" />
<path d="M439.4 620.585 L442.3 624.5 L445.2 620.585 L442.3 622.325Z" stroke="#111" stroke-width="0.3" fill="#111" />
<text x="443" y="631.2" font-size="5.6" text-anchor="middle" font-weight="bold" font-style="normal" fill="#1a1a1a" textLength="37.6" lengthAdjust="spacingAndGlyphs" stroke="#1a1a1a" stroke-width="0.22">MAP3K7 (TAK1)</text>
<path d="M423 624.7 L463.5 634.3 M423 634.5 L463.5 624.4" stroke="#e0262a" stroke-width="0.9" fill="none" />
<line x1="442.7" y1="634" x2="442.7" y2="639.77" stroke="#111" stroke-width="1.1" />
<path d="M439.8 637.885 L442.7 641.8 L445.6 637.885 L442.7 639.625Z" stroke="#111" stroke-width="0.3" fill="#111" />
<ellipse cx="442.4" cy="648.6" rx="11.15" ry="5.5" fill="#d9a0ab"/>
<text x="442.8" y="650.9" font-size="6.4" text-anchor="middle" font-weight="bold" font-style="normal" fill="#5e2226" textLength="14" lengthAdjust="spacingAndGlyphs" stroke="#5e2226" stroke-width="0.22">IKKβ</text>
<text x="407.7" y="644" font-size="5.2" text-anchor="middle" font-weight="bold" font-style="normal" fill="#1a1a1a" textLength="16.2" lengthAdjust="spacingAndGlyphs" stroke="#1a1a1a" stroke-width="0.22">β-TRCP</text>
<text x="463.8" y="644.2" font-size="5.2" text-anchor="middle" font-weight="bold" font-style="normal" fill="#1a1a1a" textLength="16.9" lengthAdjust="spacingAndGlyphs" stroke="#1a1a1a" stroke-width="0.22">β-TRCP</text>
<path d="M431 648 H400 V658" stroke="#62b592" stroke-width="0.7" fill="none" stroke-dasharray="1.7 1.2"/>
<line x1="400" y1="657.5" x2="400" y2="659.6" stroke="#62b592" stroke-width="0.7" />
<path d="M398.3 657.8 L400 660.6 L401.7 657.8Z" stroke="#62b592" stroke-width="0.3" fill="#62b592" />
<text x="412" y="664.4" font-size="5.6" text-anchor="middle" font-weight="bold" font-style="normal" fill="#1a1a1a" textLength="8" lengthAdjust="spacingAndGlyphs" stroke="#1a1a1a" stroke-width="0.22">IκB</text>
<line x1="405.8" y1="662.4" x2="391.6" y2="662.4" stroke="#62b592" stroke-width="0.7" stroke-dasharray="1.7 1.2"/>
<path d="M392.4 660.7 L389.6 662.4 L392.4 664.1Z" stroke="#62b592" stroke-width="0.3" fill="#62b592" />
<ellipse cx="381.5" cy="657.8" rx="1" ry="1.9" fill="#111" transform="rotate(-30 381.5 657.8)"/>
<ellipse cx="378.9" cy="662.9" rx="1.3" ry="1.3" fill="#111" transform="rotate(0 378.9 662.9)"/>
<ellipse cx="385" cy="662.4" rx="1.3" ry="1.2" fill="#111" transform="rotate(0 385 662.4)"/>
<ellipse cx="382" cy="665" rx="1.3" ry="1.2" fill="#111" transform="rotate(0 382 665)"/>
<ellipse cx="382" cy="662.3" rx="0.5" ry="0.5" fill="#111" transform="rotate(0 382 662.3)"/>
<path d="M411.2 666.5 L400.8 675.6 M395.8 676.2 H405.8" stroke="#3f9a8c" stroke-width="0.8" fill="none" />
<text x="400.2" y="682.7" font-size="5.6" text-anchor="middle" font-weight="bold" font-style="normal" fill="#1a1a1a" textLength="15.8" lengthAdjust="spacingAndGlyphs" stroke="#1a1a1a" stroke-width="0.22">NF-κB</text>
<line x1="410.7" y1="680.7" x2="420.7" y2="680.7" stroke="#62b592" stroke-width="0.7" stroke-dasharray="1.7 1.2"/>
<path d="M419.9 679 L422.7 680.7 L419.9 682.4Z" stroke="#62b592" stroke-width="0.3" fill="#62b592" />
<line x1="399.6" y1="684.5" x2="399.6" y2="694.8" stroke="#62b592" stroke-width="0.7" stroke-dasharray="1.7 1.2"/>
<path d="M397.9 693 L399.6 695.8 L401.3 693Z" stroke="#62b592" stroke-width="0.3" fill="#62b592" />
<rect x="384.5" y="697.4" width="33.3" height="6" rx="2.5" fill="#f3efb0" opacity="0.55"/>
<path d="M385.0 703.7 C386.0 696.4 387.9 696.1 388.6 700.4 S390.5 704.4 391.8 698.4" stroke="#d8d23a" stroke-width="1.5" fill="none" stroke-linecap="round"/>
<path d="M391.5 703.7 C392.4 696.4 394.4 696.1 395.0 700.4 S397.0 704.4 398.2 698.4" stroke="#9fc24a" stroke-width="1.5" fill="none" stroke-linecap="round"/>
<path d="M397.9 703.7 C398.9 696.4 400.8 696.1 401.5 700.4 S403.4 704.4 404.7 698.4" stroke="#e8e04a" stroke-width="1.5" fill="none" stroke-linecap="round"/>
<path d="M404.4 703.7 C405.3 696.4 407.3 696.1 407.9 700.4 S409.9 704.4 411.2 698.4" stroke="#d9a23a" stroke-width="1.5" fill="none" stroke-linecap="round"/>
<path d="M410.8 703.7 C411.8 696.4 413.7 696.1 414.4 700.4 S416.3 704.4 417.6 698.4" stroke="#b9c84a" stroke-width="1.5" fill="none" stroke-linecap="round"/>
<path d="M385.0 700.4 L385.0 702.9 L386.2 703.3 L387.3 702.0 L388.5 699.8 L389.6 697.9 L390.8 697.5 L391.9 698.8 L393.1 701.0 L394.2 702.9 L395.4 703.3 L396.5 702.0 L397.7 699.8 L398.8 697.9 L400.0 697.5 L401.1 698.8 L402.3 701.0 L403.5 702.9 L404.6 703.3 L405.8 702.0 L406.9 699.8 L408.1 697.9 L409.2 697.5 L410.4 698.8 L411.5 701.0 L412.7 702.9 L413.8 703.3 L415.0 702.0 L416.1 699.8 L417.3 697.9" stroke="#c8b040" stroke-width="0.7" fill="none" opacity="0.8"/>
<path d="M386.0 704.0 H416.3" stroke="#cfd6a0" stroke-width="0.5" fill="none" opacity="0.7"/>
<path d="M389.6 704 V710 H381" stroke="#62b592" stroke-width="0.7" fill="none" stroke-dasharray="1.7 1.2"/>
<line x1="381.5" y1="710" x2="380" y2="710" stroke="#62b592" stroke-width="0.7" />
<path d="M380.8 708.3 L378 710 L380.8 711.7Z" stroke="#62b592" stroke-width="0.3" fill="#62b592" />
<text x="387" y="716.9" font-size="5.6" text-anchor="middle" font-weight="bold" font-style="normal" fill="#1a1a1a" textLength="17.4" lengthAdjust="spacingAndGlyphs" stroke="#1a1a1a" stroke-width="0.22">Survival</text>
<text x="387.7" y="724.6" font-size="5.6" text-anchor="middle" font-weight="bold" font-style="normal" fill="#1a1a1a" textLength="13" lengthAdjust="spacingAndGlyphs" stroke="#1a1a1a" stroke-width="0.22">genes</text>
<line x1="399.6" y1="718.6" x2="420.7" y2="718.6" stroke="#62b592" stroke-width="0.7" stroke-dasharray="1.7 1.2"/>
<path d="M419.9 716.9 L422.7 718.6 L419.9 720.3Z" stroke="#62b592" stroke-width="0.3" fill="#62b592" />
<text x="438.2" y="715.7" font-size="6.4" text-anchor="middle" font-weight="bold" font-style="normal" fill="#1a1a1a" textLength="23.5" lengthAdjust="spacingAndGlyphs" stroke="#1a1a1a" stroke-width="0.22">Prostate</text>
<text x="438.5" y="723.6" font-size="6.4" text-anchor="middle" font-weight="bold" font-style="normal" fill="#1a1a1a" textLength="17.7" lengthAdjust="spacingAndGlyphs" stroke="#1a1a1a" stroke-width="0.22">cancer</text>
<ellipse cx="446.3" cy="669.2" rx="12.6" ry="8.35" fill="#f9d6b8" opacity="0.75"/>
<ellipse cx="446.3" cy="669.2" rx="11" ry="6.75" fill="#fac3a0"/>
<text x="446.3" y="673.304" font-size="11.4" text-anchor="middle" font-weight="bold" font-style="normal" fill="#e6261a" >AR</text>
<ellipse cx="439" cy="685.8" rx="13.35" ry="8.4" fill="#f9d6b8" opacity="0.75"/>
<ellipse cx="439" cy="685.8" rx="11.75" ry="6.8" fill="#fac3a0"/>
<text x="439" y="689.904" font-size="11.4" text-anchor="middle" font-weight="bold" font-style="normal" fill="#e6261a" >AR</text>
<ellipse cx="491.5" cy="677.8" rx="12.9" ry="9.1" fill="#f9d6b8" opacity="0.75"/>
<ellipse cx="491.5" cy="677.8" rx="11.3" ry="7.5" fill="#fac3a0"/>
<text x="491.5" y="681.904" font-size="11.4" text-anchor="middle" font-weight="bold" font-style="normal" fill="#e6261a" >AR</text>
<path d="M476.2 679.3 H456" stroke="#e2201e" stroke-width="1.9" fill="none" />
<path d="M459.2 675.7 L453.6 679.3 L459.2 682.9" stroke="#e2201e" stroke-width="1.8" fill="none" stroke-linecap="round"/>
<path d="M438 696.5 V706" stroke="#e2201e" stroke-width="1.9" fill="none" />
<path d="M434.3 703.6 L438 708.6 L441.7 703.6" stroke="#e2201e" stroke-width="1.8" fill="none" stroke-linecap="round"/>
<path d="M456.2 647.6 H469.2 V673.5" stroke="#dc6a76" stroke-width="0.7" fill="none" stroke-dasharray="1.7 1.2"/>
<line x1="469.2" y1="673" x2="469.2" y2="675" stroke="#dc6a76" stroke-width="0.7" />
<path d="M467.84 673.56 L469.2 675.8 L470.56 673.56Z" stroke="#dc6a76" stroke-width="0.3" fill="#dc6a76" />
<text x="441" y="736.5" font-size="6" text-anchor="middle" font-weight="bold" font-style="normal" fill="#d6363f" textLength="137.5" lengthAdjust="spacingAndGlyphs" stroke="#d6363f" stroke-width="0.22">AR activation and castration-resistant progression</text>
<text x="438.2" y="743.5" font-size="6" text-anchor="middle" font-weight="bold" font-style="normal" fill="#d6363f" textLength="54" lengthAdjust="spacingAndGlyphs" stroke="#d6363f" stroke-width="0.22">of prostate cancer</text>
</svg>
</body></html>
